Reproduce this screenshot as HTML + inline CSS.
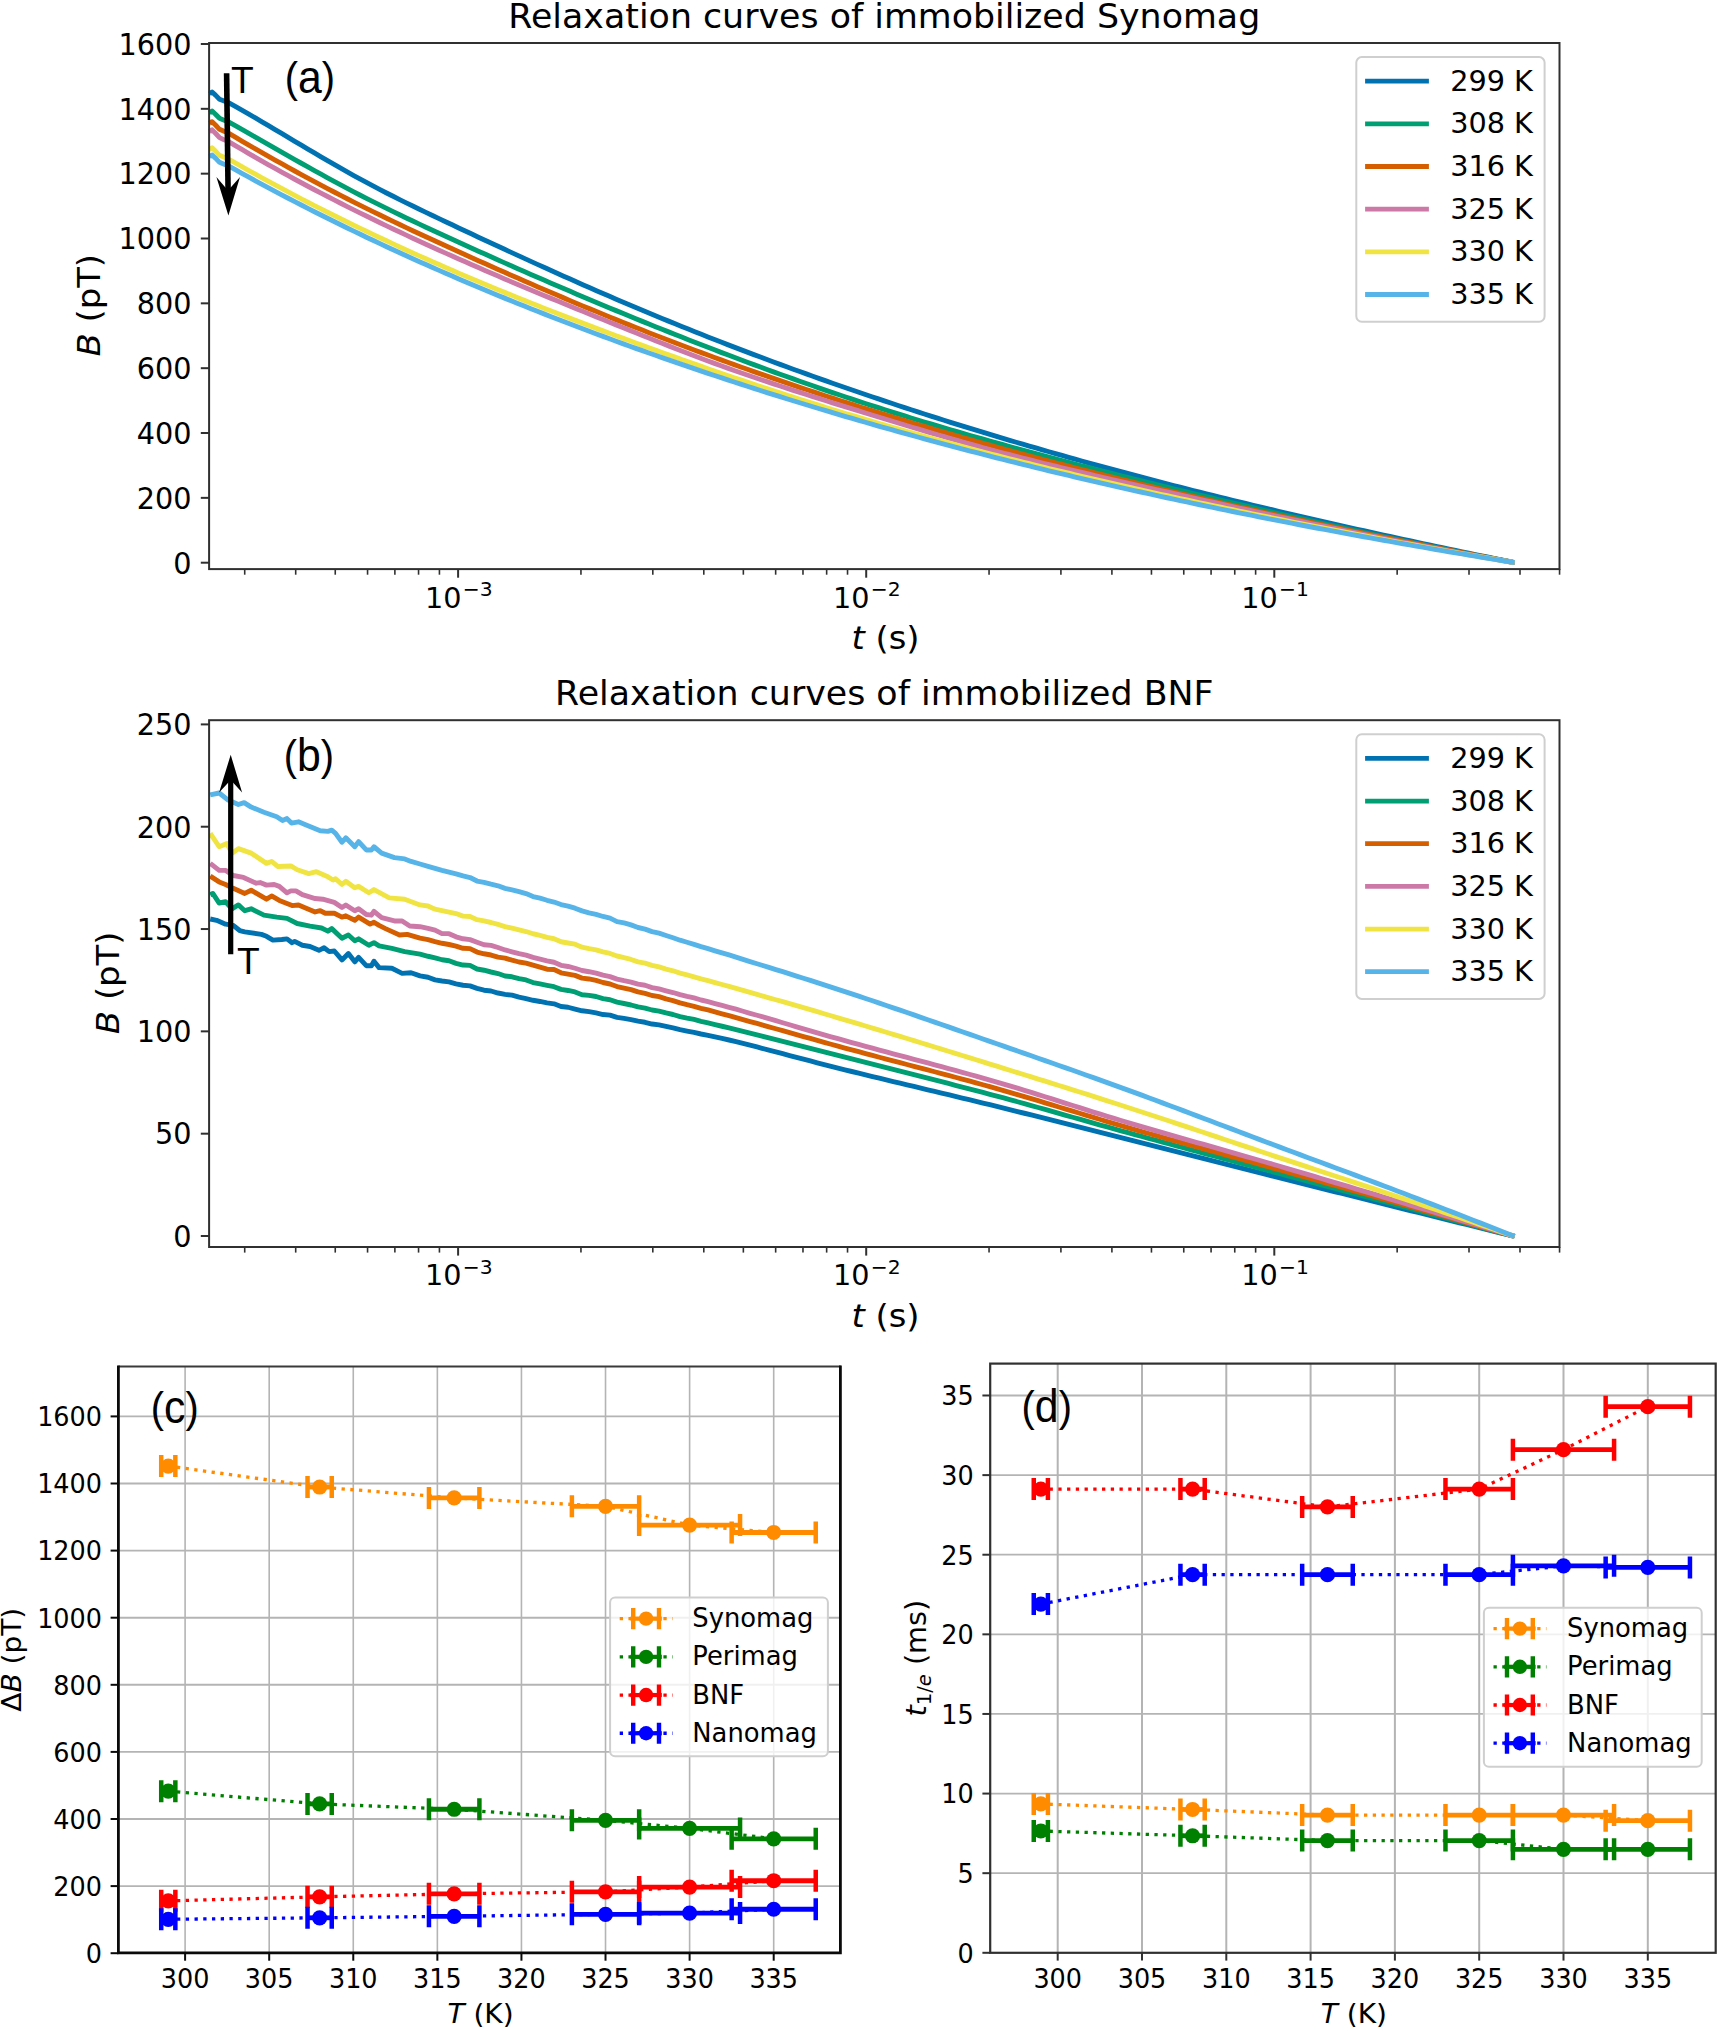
<!DOCTYPE html>
<html lang="en"><head><meta charset="utf-8"><title>Relaxation curves</title>
<style>html,body{margin:0;padding:0;background:#fff}svg{display:block}text{white-space:pre}</style>
</head><body>
<svg width="1720" height="2031" viewBox="0 0 1720 2031">
<rect width="1720" height="2031" fill="#fff"/>
<g fill="none" stroke-linejoin="round" stroke-linecap="butt" stroke-width="4.9">
<path d="M209.5 93.9 L212.1 91.99 L215.5 95.1 L219.5 99.17 L223.5 100.76 L228.5 102.62 L235.73 106.68 L242.29 110.41 L248.85 114.18 L255.41 117.99 L261.97 121.83 L268.52 125.7 L275.08 129.58 L281.64 133.48 L288.2 137.39 L294.76 141.29 L301.32 145.2 L307.87 149.09 L314.43 152.96 L320.99 156.82 L327.55 160.64 L334.11 164.44 L340.67 168.19 L347.22 171.9 L353.78 175.55 L360.34 179.15 L366.9 182.69 L373.46 186.17 L380.02 189.59 L386.57 192.96 L393.13 196.29 L399.69 199.58 L406.25 202.83 L412.81 206.04 L419.37 209.22 L425.92 212.38 L432.48 215.52 L439.04 218.64 L445.6 221.74 L452.16 224.84 L458.72 227.93 L465.27 231.01 L471.83 234.09 L478.39 237.16 L484.95 240.22 L491.51 243.27 L498.06 246.31 L504.62 249.34 L511.18 252.37 L517.74 255.38 L524.3 258.38 L530.86 261.38 L537.41 264.36 L543.97 267.33 L550.53 270.29 L557.09 273.24 L563.65 276.17 L570.21 279.09 L576.76 282 L583.32 284.89 L589.88 287.77 L596.44 290.64 L603 293.49 L609.56 296.33 L616.11 299.15 L622.67 301.96 L629.23 304.75 L635.79 307.52 L642.35 310.28 L648.91 313.02 L655.46 315.74 L662.02 318.45 L668.58 321.13 L675.14 323.81 L681.7 326.46 L688.26 329.1 L694.81 331.73 L701.37 334.33 L707.93 336.92 L714.49 339.5 L721.05 342.06 L727.61 344.6 L734.16 347.13 L740.72 349.64 L747.28 352.13 L753.84 354.62 L760.4 357.08 L766.95 359.53 L773.51 361.96 L780.07 364.38 L786.63 366.79 L793.19 369.18 L799.75 371.55 L806.3 373.91 L812.86 376.26 L819.42 378.59 L825.98 380.91 L832.54 383.21 L839.1 385.5 L845.65 387.77 L852.21 390.03 L858.77 392.27 L865.33 394.51 L871.89 396.72 L878.45 398.93 L885 401.12 L891.56 403.3 L898.12 405.46 L904.68 407.61 L911.24 409.75 L917.8 411.87 L924.35 413.98 L930.91 416.08 L937.47 418.17 L944.03 420.24 L950.59 422.3 L957.15 424.35 L963.7 426.38 L970.26 428.41 L976.82 430.42 L983.38 432.41 L989.94 434.4 L996.49 436.38 L1003.05 438.34 L1009.61 440.29 L1016.17 442.23 L1022.73 444.15 L1029.29 446.07 L1035.84 447.97 L1042.4 449.87 L1048.96 451.75 L1055.52 453.62 L1062.08 455.48 L1068.64 457.33 L1075.19 459.17 L1081.75 460.99 L1088.31 462.81 L1094.87 464.62 L1101.43 466.41 L1107.99 468.2 L1114.54 469.97 L1121.1 471.74 L1127.66 473.49 L1134.22 475.24 L1140.78 476.97 L1147.34 478.7 L1153.89 480.41 L1160.45 482.12 L1167.01 483.81 L1173.57 485.5 L1180.13 487.18 L1186.69 488.85 L1193.24 490.51 L1199.8 492.16 L1206.36 493.8 L1212.92 495.43 L1219.48 497.05 L1226.04 498.67 L1232.59 500.28 L1239.15 501.87 L1245.71 503.46 L1252.27 505.04 L1258.83 506.62 L1265.38 508.18 L1271.94 509.74 L1278.5 511.29 L1285.06 512.83 L1291.62 514.36 L1298.18 515.89 L1304.73 517.41 L1311.29 518.92 L1317.85 520.42 L1324.41 521.92 L1330.97 523.41 L1337.53 524.89 L1344.08 526.37 L1350.64 527.84 L1357.2 529.3 L1363.76 530.75 L1370.32 532.2 L1376.88 533.64 L1383.43 535.08 L1389.99 536.51 L1396.55 537.93 L1403.11 539.35 L1409.67 540.76 L1416.23 542.17 L1422.78 543.57 L1429.34 544.96 L1435.9 546.35 L1442.46 547.73 L1449.02 549.11 L1455.58 550.48 L1462.13 551.85 L1468.69 553.21 L1475.25 554.56 L1481.81 555.92 L1488.37 557.26 L1494.93 558.6 L1501.48 559.94 L1508.04 561.27 L1514.6 562.6" stroke="#0072B2"/>
<path d="M209.5 112.9 L212.1 111.03 L215.5 114.2 L219.5 118.32 L223.5 119.95 L228.5 121.84 L235.73 125.92 L242.29 129.63 L248.85 133.36 L255.41 137.11 L261.97 140.86 L268.52 144.61 L275.08 148.36 L281.64 152.1 L288.2 155.84 L294.76 159.55 L301.32 163.25 L307.87 166.93 L314.43 170.59 L320.99 174.21 L327.55 177.8 L334.11 181.37 L340.67 184.89 L347.22 188.38 L353.78 191.83 L360.34 195.23 L366.9 198.59 L373.46 201.9 L380.02 205.18 L386.57 208.42 L393.13 211.62 L399.69 214.79 L406.25 217.93 L412.81 221.04 L419.37 224.12 L425.92 227.19 L432.48 230.23 L439.04 233.26 L445.6 236.27 L452.16 239.26 L458.72 242.25 L465.27 245.23 L471.83 248.2 L478.39 251.15 L484.95 254.1 L491.51 257.03 L498.06 259.95 L504.62 262.87 L511.18 265.77 L517.74 268.66 L524.3 271.53 L530.86 274.4 L537.41 277.26 L543.97 280.1 L550.53 282.93 L557.09 285.75 L563.65 288.56 L570.21 291.36 L576.76 294.15 L583.32 296.92 L589.88 299.69 L596.44 302.44 L603 305.18 L609.56 307.9 L616.11 310.62 L622.67 313.32 L629.23 316.01 L635.79 318.69 L642.35 321.36 L648.91 324.01 L655.46 326.65 L662.02 329.28 L668.58 331.9 L675.14 334.5 L681.7 337.09 L688.26 339.66 L694.81 342.23 L701.37 344.78 L707.93 347.31 L714.49 349.83 L721.05 352.34 L727.61 354.83 L734.16 357.3 L740.72 359.77 L747.28 362.21 L753.84 364.64 L760.4 367.06 L766.95 369.46 L773.51 371.84 L780.07 374.21 L786.63 376.56 L793.19 378.9 L799.75 381.22 L806.3 383.52 L812.86 385.81 L819.42 388.08 L825.98 390.33 L832.54 392.56 L839.1 394.78 L845.65 396.97 L852.21 399.15 L858.77 401.32 L865.33 403.46 L871.89 405.58 L878.45 407.69 L885 409.78 L891.56 411.85 L898.12 413.91 L904.68 415.95 L911.24 417.97 L917.8 419.98 L924.35 421.97 L930.91 423.94 L937.47 425.9 L944.03 427.84 L950.59 429.77 L957.15 431.69 L963.7 433.59 L970.26 435.48 L976.82 437.35 L983.38 439.21 L989.94 441.06 L996.49 442.9 L1003.05 444.72 L1009.61 446.53 L1016.17 448.33 L1022.73 450.12 L1029.29 451.9 L1035.84 453.66 L1042.4 455.42 L1048.96 457.16 L1055.52 458.9 L1062.08 460.62 L1068.64 462.34 L1075.19 464.05 L1081.75 465.75 L1088.31 467.44 L1094.87 469.12 L1101.43 470.79 L1107.99 472.46 L1114.54 474.12 L1121.1 475.77 L1127.66 477.41 L1134.22 479.05 L1140.78 480.69 L1147.34 482.31 L1153.89 483.93 L1160.45 485.55 L1167.01 487.16 L1173.57 488.76 L1180.13 490.36 L1186.69 491.95 L1193.24 493.53 L1199.8 495.11 L1206.36 496.68 L1212.92 498.25 L1219.48 499.81 L1226.04 501.36 L1232.59 502.91 L1239.15 504.45 L1245.71 505.98 L1252.27 507.51 L1258.83 509.03 L1265.38 510.54 L1271.94 512.05 L1278.5 513.55 L1285.06 515.04 L1291.62 516.53 L1298.18 518.01 L1304.73 519.48 L1311.29 520.94 L1317.85 522.4 L1324.41 523.85 L1330.97 525.3 L1337.53 526.73 L1344.08 528.16 L1350.64 529.58 L1357.2 531 L1363.76 532.4 L1370.32 533.8 L1376.88 535.2 L1383.43 536.58 L1389.99 537.96 L1396.55 539.33 L1403.11 540.69 L1409.67 542.04 L1416.23 543.39 L1422.78 544.72 L1429.34 546.05 L1435.9 547.37 L1442.46 548.69 L1449.02 549.99 L1455.58 551.29 L1462.13 552.58 L1468.69 553.86 L1475.25 555.14 L1481.81 556.4 L1488.37 557.66 L1494.93 558.9 L1501.48 560.14 L1508.04 561.37 L1514.6 562.6" stroke="#009E73"/>
<path d="M209.5 123.4 L212.1 121.66 L215.5 125.01 L219.5 129.31 L223.5 131.09 L228.5 133.17 L235.73 137.44 L242.29 141.28 L248.85 145.09 L255.41 148.88 L261.97 152.63 L268.52 156.36 L275.08 160.06 L281.64 163.73 L288.2 167.37 L294.76 170.98 L301.32 174.56 L307.87 178.11 L314.43 181.62 L320.99 185.11 L327.55 188.57 L334.11 191.99 L340.67 195.38 L347.22 198.74 L353.78 202.07 L360.34 205.37 L366.9 208.63 L373.46 211.86 L380.02 215.06 L386.57 218.23 L393.13 221.38 L399.69 224.5 L406.25 227.6 L412.81 230.68 L419.37 233.74 L425.92 236.78 L432.48 239.81 L439.04 242.82 L445.6 245.82 L452.16 248.81 L458.72 251.79 L465.27 254.76 L471.83 257.71 L478.39 260.66 L484.95 263.6 L491.51 266.52 L498.06 269.44 L504.62 272.34 L511.18 275.23 L517.74 278.11 L524.3 280.97 L530.86 283.82 L537.41 286.66 L543.97 289.49 L550.53 292.3 L557.09 295.1 L563.65 297.88 L570.21 300.65 L576.76 303.41 L583.32 306.15 L589.88 308.87 L596.44 311.58 L603 314.28 L609.56 316.95 L616.11 319.62 L622.67 322.26 L629.23 324.89 L635.79 327.5 L642.35 330.09 L648.91 332.67 L655.46 335.22 L662.02 337.76 L668.58 340.29 L675.14 342.79 L681.7 345.28 L688.26 347.76 L694.81 350.21 L701.37 352.65 L707.93 355.07 L714.49 357.48 L721.05 359.87 L727.61 362.24 L734.16 364.6 L740.72 366.94 L747.28 369.26 L753.84 371.57 L760.4 373.87 L766.95 376.15 L773.51 378.41 L780.07 380.66 L786.63 382.89 L793.19 385.11 L799.75 387.31 L806.3 389.5 L812.86 391.67 L819.42 393.83 L825.98 395.97 L832.54 398.1 L839.1 400.22 L845.65 402.32 L852.21 404.41 L858.77 406.48 L865.33 408.54 L871.89 410.58 L878.45 412.62 L885 414.63 L891.56 416.64 L898.12 418.63 L904.68 420.61 L911.24 422.58 L917.8 424.53 L924.35 426.47 L930.91 428.4 L937.47 430.31 L944.03 432.21 L950.59 434.1 L957.15 435.98 L963.7 437.85 L970.26 439.7 L976.82 441.54 L983.38 443.37 L989.94 445.19 L996.49 447 L1003.05 448.8 L1009.61 450.58 L1016.17 452.35 L1022.73 454.12 L1029.29 455.87 L1035.84 457.61 L1042.4 459.34 L1048.96 461.06 L1055.52 462.76 L1062.08 464.46 L1068.64 466.15 L1075.19 467.83 L1081.75 469.5 L1088.31 471.15 L1094.87 472.8 L1101.43 474.44 L1107.99 476.07 L1114.54 477.69 L1121.1 479.3 L1127.66 480.9 L1134.22 482.49 L1140.78 484.07 L1147.34 485.64 L1153.89 487.21 L1160.45 488.76 L1167.01 490.31 L1173.57 491.85 L1180.13 493.38 L1186.69 494.9 L1193.24 496.42 L1199.8 497.92 L1206.36 499.42 L1212.92 500.91 L1219.48 502.39 L1226.04 503.87 L1232.59 505.33 L1239.15 506.79 L1245.71 508.24 L1252.27 509.69 L1258.83 511.13 L1265.38 512.56 L1271.94 513.98 L1278.5 515.4 L1285.06 516.81 L1291.62 518.21 L1298.18 519.6 L1304.73 520.99 L1311.29 522.38 L1317.85 523.75 L1324.41 525.12 L1330.97 526.49 L1337.53 527.85 L1344.08 529.2 L1350.64 530.54 L1357.2 531.89 L1363.76 533.22 L1370.32 534.55 L1376.88 535.87 L1383.43 537.19 L1389.99 538.51 L1396.55 539.82 L1403.11 541.12 L1409.67 542.42 L1416.23 543.71 L1422.78 545 L1429.34 546.28 L1435.9 547.56 L1442.46 548.84 L1449.02 550.11 L1455.58 551.38 L1462.13 552.64 L1468.69 553.9 L1475.25 555.15 L1481.81 556.4 L1488.37 557.65 L1494.93 558.89 L1501.48 560.13 L1508.04 561.37 L1514.6 562.6" stroke="#D55E00"/>
<path d="M209.5 131.6 L212.1 129.89 L215.5 133.28 L219.5 137.61 L223.5 139.44 L228.5 141.54 L235.73 145.85 L242.29 149.71 L248.85 153.53 L255.41 157.32 L261.97 161.06 L268.52 164.77 L275.08 168.44 L281.64 172.07 L288.2 175.67 L294.76 179.23 L301.32 182.76 L307.87 186.26 L314.43 189.72 L320.99 193.15 L327.55 196.55 L334.11 199.92 L340.67 203.26 L347.22 206.57 L353.78 209.85 L360.34 213.1 L366.9 216.32 L373.46 219.52 L380.02 222.69 L386.57 225.84 L393.13 228.96 L399.69 232.06 L406.25 235.13 L412.81 238.18 L419.37 241.21 L425.92 244.22 L432.48 247.21 L439.04 250.17 L445.6 253.12 L452.16 256.05 L458.72 258.96 L465.27 261.86 L471.83 264.73 L478.39 267.59 L484.95 270.44 L491.51 273.27 L498.06 276.08 L504.62 278.88 L511.18 281.67 L517.74 284.44 L524.3 287.2 L530.86 289.95 L537.41 292.69 L543.97 295.42 L550.53 298.13 L557.09 300.84 L563.65 303.54 L570.21 306.23 L576.76 308.91 L583.32 311.58 L589.88 314.25 L596.44 316.91 L603 319.56 L609.56 322.21 L616.11 324.86 L622.67 327.5 L629.23 330.14 L635.79 332.77 L642.35 335.4 L648.91 338.03 L655.46 340.65 L662.02 343.26 L668.58 345.86 L675.14 348.44 L681.7 351 L688.26 353.53 L694.81 356.04 L701.37 358.52 L707.93 360.96 L714.49 363.38 L721.05 365.76 L727.61 368.11 L734.16 370.44 L740.72 372.74 L747.28 375.01 L753.84 377.26 L760.4 379.48 L766.95 381.69 L773.51 383.87 L780.07 386.03 L786.63 388.18 L793.19 390.31 L799.75 392.42 L806.3 394.52 L812.86 396.61 L819.42 398.68 L825.98 400.74 L832.54 402.8 L839.1 404.84 L845.65 406.88 L852.21 408.92 L858.77 410.95 L865.33 412.97 L871.89 414.99 L878.45 417.01 L885 419.02 L891.56 421.03 L898.12 423.02 L904.68 425.01 L911.24 426.99 L917.8 428.95 L924.35 430.91 L930.91 432.85 L937.47 434.77 L944.03 436.68 L950.59 438.58 L957.15 440.45 L963.7 442.31 L970.26 444.15 L976.82 445.96 L983.38 447.76 L989.94 449.53 L996.49 451.28 L1003.05 453.01 L1009.61 454.72 L1016.17 456.41 L1022.73 458.08 L1029.29 459.74 L1035.84 461.38 L1042.4 463.01 L1048.96 464.62 L1055.52 466.21 L1062.08 467.79 L1068.64 469.36 L1075.19 470.92 L1081.75 472.47 L1088.31 474.01 L1094.87 475.54 L1101.43 477.06 L1107.99 478.58 L1114.54 480.09 L1121.1 481.59 L1127.66 483.08 L1134.22 484.58 L1140.78 486.07 L1147.34 487.56 L1153.89 489.04 L1160.45 490.52 L1167.01 492 L1173.57 493.48 L1180.13 494.95 L1186.69 496.42 L1193.24 497.89 L1199.8 499.35 L1206.36 500.81 L1212.92 502.26 L1219.48 503.71 L1226.04 505.16 L1232.59 506.6 L1239.15 508.04 L1245.71 509.48 L1252.27 510.9 L1258.83 512.33 L1265.38 513.75 L1271.94 515.16 L1278.5 516.57 L1285.06 517.97 L1291.62 519.37 L1298.18 520.76 L1304.73 522.15 L1311.29 523.53 L1317.85 524.9 L1324.41 526.27 L1330.97 527.63 L1337.53 528.99 L1344.08 530.34 L1350.64 531.68 L1357.2 533.01 L1363.76 534.34 L1370.32 535.66 L1376.88 536.97 L1383.43 538.28 L1389.99 539.58 L1396.55 540.87 L1403.11 542.15 L1409.67 543.42 L1416.23 544.69 L1422.78 545.94 L1429.34 547.19 L1435.9 548.43 L1442.46 549.67 L1449.02 550.89 L1455.58 552.1 L1462.13 553.31 L1468.69 554.5 L1475.25 555.69 L1481.81 556.86 L1488.37 558.03 L1494.93 559.19 L1501.48 560.33 L1508.04 561.47 L1514.6 562.6" stroke="#CC79A7"/>
<path d="M209.5 149.61 L212.1 147.83 L215.5 151.12 L219.5 155.35 L223.5 157.06 L228.5 159.04 L235.73 163.17 L242.29 166.87 L248.85 170.55 L255.41 174.19 L261.97 177.8 L268.52 181.38 L275.08 184.92 L281.64 188.44 L288.2 191.93 L294.76 195.38 L301.32 198.81 L307.87 202.21 L314.43 205.58 L320.99 208.92 L327.55 212.23 L334.11 215.51 L340.67 218.77 L347.22 222 L353.78 225.21 L360.34 228.38 L366.9 231.54 L373.46 234.66 L380.02 237.76 L386.57 240.84 L393.13 243.89 L399.69 246.92 L406.25 249.92 L412.81 252.9 L419.37 255.86 L425.92 258.8 L432.48 261.71 L439.04 264.6 L445.6 267.47 L452.16 270.32 L458.72 273.14 L465.27 275.95 L471.83 278.74 L478.39 281.51 L484.95 284.25 L491.51 286.98 L498.06 289.69 L504.62 292.39 L511.18 295.06 L517.74 297.72 L524.3 300.36 L530.86 302.98 L537.41 305.59 L543.97 308.18 L550.53 310.76 L557.09 313.32 L563.65 315.86 L570.21 318.39 L576.76 320.91 L583.32 323.41 L589.88 325.9 L596.44 328.37 L603 330.84 L609.56 333.29 L616.11 335.73 L622.67 338.16 L629.23 340.57 L635.79 342.98 L642.35 345.37 L648.91 347.76 L655.46 350.13 L662.02 352.49 L668.58 354.84 L675.14 357.18 L681.7 359.51 L688.26 361.83 L694.81 364.13 L701.37 366.43 L707.93 368.71 L714.49 370.97 L721.05 373.23 L727.61 375.47 L734.16 377.7 L740.72 379.91 L747.28 382.11 L753.84 384.3 L760.4 386.48 L766.95 388.64 L773.51 390.79 L780.07 392.92 L786.63 395.04 L793.19 397.15 L799.75 399.24 L806.3 401.32 L812.86 403.38 L819.42 405.43 L825.98 407.47 L832.54 409.49 L839.1 411.5 L845.65 413.49 L852.21 415.47 L858.77 417.43 L865.33 419.38 L871.89 421.31 L878.45 423.23 L885 425.13 L891.56 427.02 L898.12 428.9 L904.68 430.76 L911.24 432.6 L917.8 434.44 L924.35 436.26 L930.91 438.06 L937.47 439.86 L944.03 441.64 L950.59 443.41 L957.15 445.16 L963.7 446.91 L970.26 448.64 L976.82 450.35 L983.38 452.06 L989.94 453.76 L996.49 455.44 L1003.05 457.11 L1009.61 458.77 L1016.17 460.42 L1022.73 462.06 L1029.29 463.69 L1035.84 465.31 L1042.4 466.92 L1048.96 468.51 L1055.52 470.1 L1062.08 471.68 L1068.64 473.25 L1075.19 474.8 L1081.75 476.35 L1088.31 477.89 L1094.87 479.42 L1101.43 480.95 L1107.99 482.46 L1114.54 483.97 L1121.1 485.46 L1127.66 486.95 L1134.22 488.43 L1140.78 489.91 L1147.34 491.37 L1153.89 492.83 L1160.45 494.28 L1167.01 495.72 L1173.57 497.16 L1180.13 498.59 L1186.69 500.01 L1193.24 501.42 L1199.8 502.83 L1206.36 504.23 L1212.92 505.62 L1219.48 507 L1226.04 508.38 L1232.59 509.75 L1239.15 511.12 L1245.71 512.47 L1252.27 513.82 L1258.83 515.17 L1265.38 516.5 L1271.94 517.83 L1278.5 519.16 L1285.06 520.47 L1291.62 521.78 L1298.18 523.08 L1304.73 524.38 L1311.29 525.67 L1317.85 526.95 L1324.41 528.23 L1330.97 529.5 L1337.53 530.76 L1344.08 532.02 L1350.64 533.27 L1357.2 534.51 L1363.76 535.75 L1370.32 536.98 L1376.88 538.21 L1383.43 539.43 L1389.99 540.64 L1396.55 541.85 L1403.11 543.05 L1409.67 544.25 L1416.23 545.44 L1422.78 546.62 L1429.34 547.8 L1435.9 548.97 L1442.46 550.14 L1449.02 551.3 L1455.58 552.45 L1462.13 553.6 L1468.69 554.75 L1475.25 555.88 L1481.81 557.02 L1488.37 558.14 L1494.93 559.26 L1501.48 560.38 L1508.04 561.49 L1514.6 562.6" stroke="#F0E442"/>
<path d="M209.5 156.72 L212.1 154.91 L215.5 158.16 L219.5 162.33 L223.5 164 L228.5 165.92 L235.73 169.97 L242.29 173.6 L248.85 177.21 L255.41 180.78 L261.97 184.33 L268.52 187.85 L275.08 191.35 L281.64 194.81 L288.2 198.25 L294.76 201.66 L301.32 205.04 L307.87 208.4 L314.43 211.73 L320.99 215.03 L327.55 218.31 L334.11 221.56 L340.67 224.79 L347.22 227.99 L353.78 231.17 L360.34 234.32 L366.9 237.45 L373.46 240.56 L380.02 243.64 L386.57 246.7 L393.13 249.73 L399.69 252.75 L406.25 255.74 L412.81 258.71 L419.37 261.66 L425.92 264.58 L432.48 267.49 L439.04 270.37 L445.6 273.24 L452.16 276.08 L458.72 278.91 L465.27 281.71 L471.83 284.5 L478.39 287.26 L484.95 290.01 L491.51 292.73 L498.06 295.44 L504.62 298.13 L511.18 300.8 L517.74 303.46 L524.3 306.09 L530.86 308.71 L537.41 311.31 L543.97 313.89 L550.53 316.46 L557.09 319 L563.65 321.53 L570.21 324.05 L576.76 326.55 L583.32 329.03 L589.88 331.49 L596.44 333.94 L603 336.38 L609.56 338.8 L616.11 341.2 L622.67 343.59 L629.23 345.96 L635.79 348.32 L642.35 350.66 L648.91 352.99 L655.46 355.31 L662.02 357.61 L668.58 359.9 L675.14 362.17 L681.7 364.43 L688.26 366.67 L694.81 368.9 L701.37 371.12 L707.93 373.32 L714.49 375.51 L721.05 377.69 L727.61 379.85 L734.16 382 L740.72 384.14 L747.28 386.26 L753.84 388.37 L760.4 390.46 L766.95 392.55 L773.51 394.62 L780.07 396.67 L786.63 398.72 L793.19 400.75 L799.75 402.77 L806.3 404.77 L812.86 406.77 L819.42 408.75 L825.98 410.72 L832.54 412.67 L839.1 414.62 L845.65 416.55 L852.21 418.47 L858.77 420.38 L865.33 422.27 L871.89 424.15 L878.45 426.03 L885 427.89 L891.56 429.73 L898.12 431.57 L904.68 433.4 L911.24 435.21 L917.8 437.01 L924.35 438.8 L930.91 440.58 L937.47 442.35 L944.03 444.11 L950.59 445.85 L957.15 447.59 L963.7 449.31 L970.26 451.02 L976.82 452.73 L983.38 454.42 L989.94 456.1 L996.49 457.77 L1003.05 459.43 L1009.61 461.08 L1016.17 462.72 L1022.73 464.35 L1029.29 465.97 L1035.84 467.58 L1042.4 469.18 L1048.96 470.77 L1055.52 472.34 L1062.08 473.91 L1068.64 475.47 L1075.19 477.02 L1081.75 478.56 L1088.31 480.09 L1094.87 481.61 L1101.43 483.13 L1107.99 484.63 L1114.54 486.12 L1121.1 487.61 L1127.66 489.08 L1134.22 490.55 L1140.78 492 L1147.34 493.45 L1153.89 494.89 L1160.45 496.32 L1167.01 497.74 L1173.57 499.16 L1180.13 500.56 L1186.69 501.96 L1193.24 503.35 L1199.8 504.73 L1206.36 506.1 L1212.92 507.46 L1219.48 508.82 L1226.04 510.16 L1232.59 511.5 L1239.15 512.83 L1245.71 514.16 L1252.27 515.47 L1258.83 516.78 L1265.38 518.08 L1271.94 519.37 L1278.5 520.66 L1285.06 521.94 L1291.62 523.21 L1298.18 524.47 L1304.73 525.73 L1311.29 526.98 L1317.85 528.22 L1324.41 529.46 L1330.97 530.68 L1337.53 531.91 L1344.08 533.12 L1350.64 534.33 L1357.2 535.53 L1363.76 536.73 L1370.32 537.92 L1376.88 539.1 L1383.43 540.28 L1389.99 541.45 L1396.55 542.61 L1403.11 543.77 L1409.67 544.92 L1416.23 546.07 L1422.78 547.21 L1429.34 548.34 L1435.9 549.47 L1442.46 550.59 L1449.02 551.71 L1455.58 552.82 L1462.13 553.93 L1468.69 555.03 L1475.25 556.13 L1481.81 557.22 L1488.37 558.3 L1494.93 559.39 L1501.48 560.46 L1508.04 561.53 L1514.6 562.6" stroke="#56B4E9"/>
</g>
<rect x="209.1" y="43" width="1350.4" height="526.1" fill="none" stroke="#303030" stroke-width="2.0"/>
<g><line x1="244.71" y1="569.1" x2="244.71" y2="574.7" stroke="#303030" stroke-width="1.6"/><line x1="295.7" y1="569.1" x2="295.7" y2="574.7" stroke="#303030" stroke-width="1.6"/><line x1="335.25" y1="569.1" x2="335.25" y2="574.7" stroke="#303030" stroke-width="1.6"/><line x1="367.56" y1="569.1" x2="367.56" y2="574.7" stroke="#303030" stroke-width="1.6"/><line x1="394.88" y1="569.1" x2="394.88" y2="574.7" stroke="#303030" stroke-width="1.6"/><line x1="418.55" y1="569.1" x2="418.55" y2="574.7" stroke="#303030" stroke-width="1.6"/><line x1="439.43" y1="569.1" x2="439.43" y2="574.7" stroke="#303030" stroke-width="1.6"/><line x1="458.1" y1="569.1" x2="458.1" y2="577.7" stroke="#303030" stroke-width="2"/><line x1="580.95" y1="569.1" x2="580.95" y2="574.7" stroke="#303030" stroke-width="1.6"/><line x1="652.81" y1="569.1" x2="652.81" y2="574.7" stroke="#303030" stroke-width="1.6"/><line x1="703.8" y1="569.1" x2="703.8" y2="574.7" stroke="#303030" stroke-width="1.6"/><line x1="743.35" y1="569.1" x2="743.35" y2="574.7" stroke="#303030" stroke-width="1.6"/><line x1="775.66" y1="569.1" x2="775.66" y2="574.7" stroke="#303030" stroke-width="1.6"/><line x1="802.98" y1="569.1" x2="802.98" y2="574.7" stroke="#303030" stroke-width="1.6"/><line x1="826.65" y1="569.1" x2="826.65" y2="574.7" stroke="#303030" stroke-width="1.6"/><line x1="847.53" y1="569.1" x2="847.53" y2="574.7" stroke="#303030" stroke-width="1.6"/><line x1="866.2" y1="569.1" x2="866.2" y2="577.7" stroke="#303030" stroke-width="2"/><line x1="989.05" y1="569.1" x2="989.05" y2="574.7" stroke="#303030" stroke-width="1.6"/><line x1="1060.91" y1="569.1" x2="1060.91" y2="574.7" stroke="#303030" stroke-width="1.6"/><line x1="1111.9" y1="569.1" x2="1111.9" y2="574.7" stroke="#303030" stroke-width="1.6"/><line x1="1151.45" y1="569.1" x2="1151.45" y2="574.7" stroke="#303030" stroke-width="1.6"/><line x1="1183.76" y1="569.1" x2="1183.76" y2="574.7" stroke="#303030" stroke-width="1.6"/><line x1="1211.08" y1="569.1" x2="1211.08" y2="574.7" stroke="#303030" stroke-width="1.6"/><line x1="1234.75" y1="569.1" x2="1234.75" y2="574.7" stroke="#303030" stroke-width="1.6"/><line x1="1255.63" y1="569.1" x2="1255.63" y2="574.7" stroke="#303030" stroke-width="1.6"/><line x1="1274.3" y1="569.1" x2="1274.3" y2="577.7" stroke="#303030" stroke-width="2"/><line x1="1397.15" y1="569.1" x2="1397.15" y2="574.7" stroke="#303030" stroke-width="1.6"/><line x1="1469.01" y1="569.1" x2="1469.01" y2="574.7" stroke="#303030" stroke-width="1.6"/><line x1="1520" y1="569.1" x2="1520" y2="574.7" stroke="#303030" stroke-width="1.6"/><line x1="1559.55" y1="569.1" x2="1559.55" y2="574.7" stroke="#303030" stroke-width="1.6"/><line x1="200.8" y1="562.7" x2="209.1" y2="562.7" stroke="#303030" stroke-width="2"/><line x1="200.8" y1="497.86" x2="209.1" y2="497.86" stroke="#303030" stroke-width="2"/><line x1="200.8" y1="433.02" x2="209.1" y2="433.02" stroke="#303030" stroke-width="2"/><line x1="200.8" y1="368.18" x2="209.1" y2="368.18" stroke="#303030" stroke-width="2"/><line x1="200.8" y1="303.34" x2="209.1" y2="303.34" stroke="#303030" stroke-width="2"/><line x1="200.8" y1="238.5" x2="209.1" y2="238.5" stroke="#303030" stroke-width="2"/><line x1="200.8" y1="173.66" x2="209.1" y2="173.66" stroke="#303030" stroke-width="2"/><line x1="200.8" y1="108.82" x2="209.1" y2="108.82" stroke="#303030" stroke-width="2"/><line x1="200.8" y1="43.98" x2="209.1" y2="43.98" stroke="#303030" stroke-width="2"/></g>
<g font-family='"DejaVu Sans", "Liberation Sans", sans-serif' font-size="28.7" fill="#000"><text transform="translate(191.6,573.5) scale(1,1.02)" text-anchor="end">0</text><text transform="translate(191.6,508.66) scale(1,1.02)" text-anchor="end">200</text><text transform="translate(191.6,443.82) scale(1,1.02)" text-anchor="end">400</text><text transform="translate(191.6,378.98) scale(1,1.02)" text-anchor="end">600</text><text transform="translate(191.6,314.14) scale(1,1.02)" text-anchor="end">800</text><text transform="translate(191.6,249.3) scale(1,1.02)" text-anchor="end">1000</text><text transform="translate(191.6,184.46) scale(1,1.02)" text-anchor="end">1200</text><text transform="translate(191.6,119.62) scale(1,1.02)" text-anchor="end">1400</text><text transform="translate(191.6,54.78) scale(1,1.02)" text-anchor="end">1600</text><text x="458.8" y="607.6" text-anchor="middle">10<tspan font-size="20.3" dx="1.2" dy="-11.6">−3</tspan></text><text x="866.9" y="607.6" text-anchor="middle">10<tspan font-size="20.3" dx="1.2" dy="-11.6">−2</tspan></text><text x="1275" y="607.6" text-anchor="middle">10<tspan font-size="20.3" dx="1.2" dy="-11.6">−1</tspan></text></g>
<text transform="translate(884.3,28.4) scale(1,0.95)" text-anchor="middle" font-family='"DejaVu Sans", "Liberation Sans", sans-serif' font-size="34.8" fill="#000">Relaxation curves of immobilized Synomag</text>
<text transform="translate(885.5,649) scale(1,0.955)" text-anchor="middle" font-family='"DejaVu Sans", "Liberation Sans", sans-serif' font-size="33.9" fill="#000"><tspan font-style="oblique">t</tspan> (s)</text>
<text transform="translate(100.3,305.25) rotate(-90) scale(1,0.94)" text-anchor="middle" font-family='"DejaVu Sans", "Liberation Sans", sans-serif' font-size="33.9" fill="#000"><tspan font-style="oblique">B</tspan> (pT)</text>
<rect x="1356.3" y="57.1" width="188.3" height="264.6" rx="5.5" fill="#fff" fill-opacity="0.8" stroke="#cfcfcf" stroke-width="2"/>
<g font-family='"DejaVu Sans", "Liberation Sans", sans-serif' font-size="28.7" fill="#000"><line x1="1365.1" y1="81.2" x2="1428.9" y2="81.2" stroke="#0072B2" stroke-width="4.8"/><text x="1450.2" y="90.8">299 K</text><line x1="1365.1" y1="123.86" x2="1428.9" y2="123.86" stroke="#009E73" stroke-width="4.8"/><text x="1450.2" y="133.46">308 K</text><line x1="1365.1" y1="166.52" x2="1428.9" y2="166.52" stroke="#D55E00" stroke-width="4.8"/><text x="1450.2" y="176.12">316 K</text><line x1="1365.1" y1="209.18" x2="1428.9" y2="209.18" stroke="#CC79A7" stroke-width="4.8"/><text x="1450.2" y="218.78">325 K</text><line x1="1365.1" y1="251.84" x2="1428.9" y2="251.84" stroke="#F0E442" stroke-width="4.8"/><text x="1450.2" y="261.44">330 K</text><line x1="1365.1" y1="294.5" x2="1428.9" y2="294.5" stroke="#56B4E9" stroke-width="4.8"/><text x="1450.2" y="304.1">335 K</text></g>
<path d="M226.6 73.3 L228.1 192" stroke="#000" stroke-width="5.6" fill="none"/>
<path d="M228.4 215.6 L216.4 177 L228 190.5 L240 177 Z" fill="#000"/>
<text x="231.0" y="93.4" font-family='"Liberation Sans", "DejaVu Sans", sans-serif' font-size="37.2" fill="#000">T</text>
<g transform="translate(284.7,93) scale(0.93,1)"><text x="0" y="0" font-family='"Liberation Sans", "DejaVu Sans", sans-serif' font-size="42.8" fill="#000"><tspan dy="-1.4">(</tspan><tspan font-size="46" dy="1.4">a</tspan><tspan dy="-1.4">)</tspan></text></g>
<g fill="none" stroke-linejoin="round" stroke-linecap="butt" stroke-width="4.9">
<path d="M210.23 919.01 L216.63 920.29 L225.58 924.13 L233.26 925.41 L239.65 930.52 L244.77 931.8 L261.4 934.36 L266.51 936.28 L272.91 940.12 L281.86 939.48 L286.98 938.84 L292.1 942.68 L294.65 941.4 L302.33 945.23 L310 946.51 L318.96 950.35 L324.07 947.79 L329.19 951.63 L334.31 950.99 L341.98 959.94 L348.38 953.55 L354.77 961.86 L358.61 957.39 L366.28 965.7 L371.4 965.7 L373.96 961.22 L379.07 967.62 L391.86 968.26 L402.1 973.37 L411.05 972.73 L420.01 975.93 L428 977.25 L435 979.88 L442 981.02 L449 981.89 L456 983.85 L463 985.24 L470 985.87 L477 988.32 L484 990.2 L491 990.99 L498 993.03 L505 994.37 L512 995.14 L519 997.11 L526 998.57 L533 1000.28 L540 1001.47 L547 1002.92 L554 1003.82 L561 1006.48 L568 1007.25 L575 1009.04 L582 1010.79 L589 1011.65 L596 1012.88 L603 1014.53 L610 1015.15 L617 1017.38 L624 1018.45 L631 1019.6 L638 1021.12 L645 1022.26 L652 1024.05 L659 1024.93 L666 1026.42 L673 1027.83 L680 1029.57 L687 1031.06 L694 1032.39 L701 1034 L708 1035.36 L715 1036.94 L722 1038.44 L729 1039.99 L736 1041.67 L743 1043.46 L750 1045.24 L757 1046.99 L762 1048.26 L768.9 1050.06 L775.81 1051.87 L782.71 1053.69 L789.62 1055.51 L796.52 1057.34 L803.43 1059.17 L810.33 1060.99 L817.24 1062.8 L824.14 1064.58 L831.05 1066.35 L837.95 1068.09 L844.86 1069.8 L851.76 1071.5 L858.66 1073.19 L865.57 1074.88 L872.47 1076.55 L879.38 1078.22 L886.28 1079.88 L893.19 1081.53 L900.09 1083.19 L907 1084.83 L913.9 1086.48 L920.81 1088.13 L927.71 1089.77 L934.61 1091.41 L941.52 1093.06 L948.42 1094.71 L955.33 1096.36 L962.23 1098.02 L969.14 1099.68 L976.04 1101.35 L982.95 1103.02 L989.85 1104.71 L996.76 1106.4 L1003.66 1108.1 L1010.57 1109.81 L1017.47 1111.53 L1024.37 1113.25 L1031.28 1114.98 L1038.18 1116.71 L1045.09 1118.45 L1051.99 1120.19 L1058.9 1121.93 L1065.8 1123.68 L1072.71 1125.43 L1079.61 1127.18 L1086.52 1128.93 L1093.42 1130.68 L1100.32 1132.43 L1107.23 1134.17 L1114.13 1135.92 L1121.04 1137.66 L1127.94 1139.41 L1134.85 1141.15 L1141.75 1142.9 L1148.66 1144.64 L1155.56 1146.39 L1162.47 1148.14 L1169.37 1149.89 L1176.28 1151.64 L1183.18 1153.39 L1190.08 1155.14 L1196.99 1156.9 L1203.89 1158.65 L1210.8 1160.4 L1217.7 1162.15 L1224.61 1163.9 L1231.51 1165.65 L1238.42 1167.4 L1245.32 1169.14 L1252.23 1170.89 L1259.13 1172.63 L1266.03 1174.38 L1272.94 1176.12 L1279.84 1177.86 L1286.75 1179.6 L1293.65 1181.34 L1300.56 1183.08 L1307.46 1184.81 L1314.37 1186.55 L1321.27 1188.29 L1328.18 1190.02 L1335.08 1191.75 L1341.99 1193.49 L1348.89 1195.22 L1355.79 1196.95 L1362.7 1198.68 L1369.6 1200.41 L1376.51 1202.13 L1383.41 1203.86 L1390.32 1205.58 L1397.22 1207.31 L1404.13 1209.03 L1411.03 1210.75 L1417.94 1212.47 L1424.84 1214.18 L1431.74 1215.9 L1438.65 1217.62 L1445.55 1219.33 L1452.46 1221.04 L1459.36 1222.75 L1466.27 1224.46 L1473.17 1226.17 L1480.08 1227.88 L1486.98 1229.59 L1493.89 1231.29 L1500.79 1233 L1507.7 1234.7 L1514.6 1236.4" stroke="#0072B2"/>
<path d="M210.23 894.71 L212.79 893.43 L219.19 903.02 L225.58 901.74 L231.98 908.78 L238.37 904.94 L244.77 910.7 L251.16 908.78 L263.95 915.18 L276.75 917.09 L286.98 918.37 L297.21 923.49 L310 926.05 L321.51 927.97 L327.91 931.16 L331.75 928.61 L341.98 938.2 L348.38 935 L354.77 940.76 L358.61 938.84 L368.84 945.23 L373.96 942.68 L379.07 945.87 L391.86 948.43 L404.66 951.63 L420.01 954.19 L428 956.26 L435 957.86 L442 959.76 L449 960.78 L456 963.33 L463 965.07 L470 965.42 L477 969.03 L484 970.24 L491 972 L498 973.55 L505 975.97 L512 976.78 L519 978.54 L526 979.94 L533 982.56 L540 983.97 L547 985.3 L554 986.69 L561 989.38 L568 990.46 L575 991.91 L582 994.71 L589 995.35 L596 996.52 L603 998.67 L610 999.74 L617 1002.11 L624 1003.5 L631 1005 L638 1006.94 L645 1008.09 L652 1010.01 L659 1011.08 L666 1012.96 L673 1014.49 L680 1016.54 L687 1018.09 L694 1019.44 L701 1021.34 L708 1022.83 L715 1024.54 L722 1026.25 L729 1027.88 L736 1029.65 L743 1031.44 L750 1033.2 L757 1034.92 L762 1036.18 L768.9 1037.92 L775.81 1039.66 L782.71 1041.41 L789.62 1043.17 L796.52 1044.92 L803.43 1046.68 L810.33 1048.44 L817.24 1050.21 L824.14 1051.97 L831.05 1053.72 L837.95 1055.48 L844.86 1057.23 L851.76 1058.98 L858.66 1060.73 L865.57 1062.47 L872.47 1064.21 L879.38 1065.95 L886.28 1067.69 L893.19 1069.44 L900.09 1071.18 L907 1072.93 L913.9 1074.67 L920.81 1076.43 L927.71 1078.18 L934.61 1079.94 L941.52 1081.71 L948.42 1083.48 L955.33 1085.26 L962.23 1087.05 L969.14 1088.85 L976.04 1090.65 L982.95 1092.47 L989.85 1094.3 L996.76 1096.13 L1003.66 1097.98 L1010.57 1099.85 L1017.47 1101.74 L1024.37 1103.65 L1031.28 1105.56 L1038.18 1107.49 L1045.09 1109.43 L1051.99 1111.38 L1058.9 1113.33 L1065.8 1115.29 L1072.71 1117.25 L1079.61 1119.2 L1086.52 1121.15 L1093.42 1123.1 L1100.32 1125.04 L1107.23 1126.97 L1114.13 1128.88 L1121.04 1130.79 L1127.94 1132.68 L1134.85 1134.57 L1141.75 1136.45 L1148.66 1138.33 L1155.56 1140.21 L1162.47 1142.09 L1169.37 1143.96 L1176.28 1145.82 L1183.18 1147.69 L1190.08 1149.55 L1196.99 1151.41 L1203.89 1153.27 L1210.8 1155.13 L1217.7 1156.98 L1224.61 1158.83 L1231.51 1160.69 L1238.42 1162.54 L1245.32 1164.39 L1252.23 1166.24 L1259.13 1168.1 L1266.03 1169.95 L1272.94 1171.8 L1279.84 1173.66 L1286.75 1175.51 L1293.65 1177.37 L1300.56 1179.22 L1307.46 1181.07 L1314.37 1182.92 L1321.27 1184.76 L1328.18 1186.61 L1335.08 1188.46 L1341.99 1190.3 L1348.89 1192.15 L1355.79 1193.99 L1362.7 1195.84 L1369.6 1197.68 L1376.51 1199.52 L1383.41 1201.37 L1390.32 1203.21 L1397.22 1205.06 L1404.13 1206.9 L1411.03 1208.75 L1417.94 1210.59 L1424.84 1212.44 L1431.74 1214.28 L1438.65 1216.13 L1445.55 1217.97 L1452.46 1219.81 L1459.36 1221.66 L1466.27 1223.5 L1473.17 1225.34 L1480.08 1227.19 L1486.98 1229.03 L1493.89 1230.87 L1500.79 1232.72 L1507.7 1234.56 L1514.6 1236.4" stroke="#009E73"/>
<path d="M210.23 876.17 L219.19 881.92 L225.58 884.48 L233.26 888.32 L244.77 893.43 L251.16 890.24 L266.51 899.19 L271.63 895.99 L279.3 900.47 L292.1 905.58 L298.49 904.94 L315.12 911.98 L320.24 910.7 L325.35 913.26 L334.31 913.26 L341.98 917.1 L345.82 915.82 L354.77 920.29 L358.61 917.1 L370.12 924.13 L373.96 922.21 L379.07 925.41 L385.47 928.61 L399.54 935 L407.21 934.36 L420.01 938.2 L428 939.63 L435 941.62 L442 943.27 L449 944.5 L456 946.15 L463 948.3 L470 948.59 L477 952.04 L484 953.78 L491 955.03 L498 957.09 L505 958.17 L512 960.17 L519 962 L526 963.19 L533 965.2 L540 967.08 L547 969.18 L554 969.57 L561 972.78 L568 974.17 L575 975.4 L582 978.1 L589 978.97 L596 980.42 L603 982.48 L610 983.98 L617 986.52 L624 988.13 L631 989.6 L638 991.89 L645 993.32 L652 995.48 L659 996.67 L666 998.94 L673 1000.6 L680 1002.88 L687 1004.74 L694 1006.41 L701 1008.31 L708 1009.97 L715 1011.93 L722 1013.82 L729 1015.64 L736 1017.61 L743 1019.59 L750 1021.54 L757 1023.47 L762 1024.87 L768.9 1026.81 L775.81 1028.75 L782.71 1030.7 L789.62 1032.65 L796.52 1034.59 L803.43 1036.54 L810.33 1038.48 L817.24 1040.41 L824.14 1042.33 L831.05 1044.24 L837.95 1046.14 L844.86 1048.02 L851.76 1049.89 L858.66 1051.74 L865.57 1053.59 L872.47 1055.42 L879.38 1057.25 L886.28 1059.07 L893.19 1060.88 L900.09 1062.69 L907 1064.5 L913.9 1066.31 L920.81 1068.12 L927.71 1069.93 L934.61 1071.75 L941.52 1073.57 L948.42 1075.4 L955.33 1077.25 L962.23 1079.1 L969.14 1080.96 L976.04 1082.84 L982.95 1084.74 L989.85 1086.65 L996.76 1088.58 L1003.66 1090.54 L1010.57 1092.52 L1017.47 1094.53 L1024.37 1096.57 L1031.28 1098.62 L1038.18 1100.69 L1045.09 1102.78 L1051.99 1104.87 L1058.9 1106.97 L1065.8 1109.07 L1072.71 1111.18 L1079.61 1113.28 L1086.52 1115.37 L1093.42 1117.45 L1100.32 1119.52 L1107.23 1121.57 L1114.13 1123.6 L1121.04 1125.6 L1127.94 1127.59 L1134.85 1129.56 L1141.75 1131.53 L1148.66 1133.49 L1155.56 1135.43 L1162.47 1137.37 L1169.37 1139.31 L1176.28 1141.23 L1183.18 1143.16 L1190.08 1145.07 L1196.99 1146.99 L1203.89 1148.9 L1210.8 1150.8 L1217.7 1152.71 L1224.61 1154.62 L1231.51 1156.52 L1238.42 1158.43 L1245.32 1160.34 L1252.23 1162.26 L1259.13 1164.17 L1266.03 1166.1 L1272.94 1168.02 L1279.84 1169.96 L1286.75 1171.89 L1293.65 1173.83 L1300.56 1175.77 L1307.46 1177.71 L1314.37 1179.65 L1321.27 1181.59 L1328.18 1183.53 L1335.08 1185.48 L1341.99 1187.42 L1348.89 1189.37 L1355.79 1191.31 L1362.7 1193.26 L1369.6 1195.21 L1376.51 1197.16 L1383.41 1199.11 L1390.32 1201.06 L1397.22 1203.01 L1404.13 1204.97 L1411.03 1206.92 L1417.94 1208.88 L1424.84 1210.84 L1431.74 1212.8 L1438.65 1214.76 L1445.55 1216.72 L1452.46 1218.68 L1459.36 1220.65 L1466.27 1222.61 L1473.17 1224.58 L1480.08 1226.55 L1486.98 1228.51 L1493.89 1230.48 L1500.79 1232.46 L1507.7 1234.43 L1514.6 1236.4" stroke="#D55E00"/>
<path d="M210.23 863.37 L219.19 870.41 L225.58 870.41 L233.26 875.53 L243.49 877.44 L256.28 883.2 L260.12 882.56 L266.51 885.12 L274.19 884.48 L279.3 886.4 L286.98 892.79 L290.82 890.87 L295.93 890.87 L302.33 894.71 L315.12 898.55 L322.79 899.19 L334.31 902.39 L341.98 907.5 L345.82 904.94 L354.77 910.7 L358.61 908.78 L366.28 914.54 L371.4 915.18 L373.96 911.34 L381.63 917.74 L394.42 920.93 L402.1 920.93 L409.77 926.05 L420.01 926.69 L428 928.37 L435 930.14 L442 933.66 L449 933.65 L456 936.8 L463 938.8 L470 939.63 L477 942.27 L484 944.77 L491 945.41 L498 947.53 L505 949.96 L512 951.82 L519 953.57 L526 955.1 L533 957.4 L540 959.16 L547 960.83 L554 962.25 L561 965.32 L568 966.46 L575 968.25 L582 970.53 L589 971.71 L596 973.2 L603 975.19 L610 976.61 L617 979.07 L624 980.69 L631 982.07 L638 984.17 L645 985.28 L652 987.55 L659 988.92 L666 990.76 L673 992.52 L680 994.71 L687 996.45 L694 997.97 L701 1000 L708 1001.69 L715 1003.62 L722 1005.44 L729 1007.31 L736 1009.22 L743 1011.26 L750 1013.29 L757 1015.26 L762 1016.7 L768.9 1018.71 L775.81 1020.72 L782.71 1022.74 L789.62 1024.76 L796.52 1026.78 L803.43 1028.8 L810.33 1030.81 L817.24 1032.81 L824.14 1034.8 L831.05 1036.77 L837.95 1038.72 L844.86 1040.66 L851.76 1042.57 L858.66 1044.46 L865.57 1046.35 L872.47 1048.22 L879.38 1050.08 L886.28 1051.93 L893.19 1053.78 L900.09 1055.62 L907 1057.46 L913.9 1059.3 L920.81 1061.14 L927.71 1062.99 L934.61 1064.84 L941.52 1066.69 L948.42 1068.56 L955.33 1070.44 L962.23 1072.33 L969.14 1074.24 L976.04 1076.16 L982.95 1078.11 L989.85 1080.07 L996.76 1082.06 L1003.66 1084.07 L1010.57 1086.12 L1017.47 1088.2 L1024.37 1090.31 L1031.28 1092.44 L1038.18 1094.59 L1045.09 1096.76 L1051.99 1098.94 L1058.9 1101.13 L1065.8 1103.32 L1072.71 1105.52 L1079.61 1107.7 L1086.52 1109.88 L1093.42 1112.05 L1100.32 1114.2 L1107.23 1116.33 L1114.13 1118.43 L1121.04 1120.51 L1127.94 1122.57 L1134.85 1124.61 L1141.75 1126.63 L1148.66 1128.65 L1155.56 1130.65 L1162.47 1132.65 L1169.37 1134.63 L1176.28 1136.61 L1183.18 1138.59 L1190.08 1140.55 L1196.99 1142.52 L1203.89 1144.48 L1210.8 1146.44 L1217.7 1148.4 L1224.61 1150.36 L1231.51 1152.33 L1238.42 1154.3 L1245.32 1156.27 L1252.23 1158.25 L1259.13 1160.24 L1266.03 1162.23 L1272.94 1164.24 L1279.84 1166.25 L1286.75 1168.28 L1293.65 1170.31 L1300.56 1172.35 L1307.46 1174.39 L1314.37 1176.44 L1321.27 1178.49 L1328.18 1180.54 L1335.08 1182.59 L1341.99 1184.65 L1348.89 1186.72 L1355.79 1188.78 L1362.7 1190.84 L1369.6 1192.91 L1376.51 1194.97 L1383.41 1197.04 L1390.32 1199.11 L1397.22 1201.17 L1404.13 1203.23 L1411.03 1205.3 L1417.94 1207.36 L1424.84 1209.43 L1431.74 1211.5 L1438.65 1213.57 L1445.55 1215.64 L1452.46 1217.71 L1459.36 1219.78 L1466.27 1221.86 L1473.17 1223.93 L1480.08 1226.01 L1486.98 1228.08 L1493.89 1230.16 L1500.79 1232.24 L1507.7 1234.32 L1514.6 1236.4" stroke="#CC79A7"/>
<path d="M210.23 833.32 L219.19 846.75 L226.86 843.55 L231.98 853.14 L238.37 848.66 L251.16 853.14 L266.51 863.37 L271.63 861.46 L278.03 866.57 L290.82 865.93 L297.21 869.77 L308.72 873.61 L316.4 871.69 L327.91 876.8 L333.03 880 L335.58 878.72 L341.98 884.48 L345.82 881.28 L354.77 887.68 L358.61 886.4 L368.84 892.79 L373.96 889.6 L389.31 897.91 L404.66 899.19 L420.01 904.94 L428 906.02 L435 909.14 L442 910.65 L449 912.03 L456 913.57 L463 916.12 L470 916.48 L477 919.69 L484 920.9 L491 922.51 L498 924.48 L505 926.57 L512 928.22 L519 929.94 L526 931.52 L533 933.74 L540 935.28 L547 937.38 L554 938.75 L561 941.76 L568 943.02 L575 944.19 L582 947.16 L589 948.61 L596 949.84 L603 951.9 L610 953.45 L617 956 L624 957.71 L631 959.44 L638 961.88 L645 963.13 L652 965.29 L659 966.91 L666 969.09 L673 970.79 L680 973.08 L687 974.89 L694 976.81 L701 978.77 L708 980.53 L715 982.56 L722 984.5 L729 986.45 L736 988.4 L743 990.46 L750 992.44 L757 994.4 L762 995.82 L768.9 997.78 L775.81 999.76 L782.71 1001.73 L789.62 1003.72 L796.52 1005.71 L803.43 1007.71 L810.33 1009.71 L817.24 1011.72 L824.14 1013.74 L831.05 1015.76 L837.95 1017.8 L844.86 1019.83 L851.76 1021.88 L858.66 1023.94 L865.57 1026 L872.47 1028.08 L879.38 1030.15 L886.28 1032.24 L893.19 1034.33 L900.09 1036.43 L907 1038.53 L913.9 1040.64 L920.81 1042.75 L927.71 1044.87 L934.61 1046.99 L941.52 1049.12 L948.42 1051.25 L955.33 1053.38 L962.23 1055.51 L969.14 1057.64 L976.04 1059.78 L982.95 1061.92 L989.85 1064.06 L996.76 1066.2 L1003.66 1068.33 L1010.57 1070.47 L1017.47 1072.61 L1024.37 1074.76 L1031.28 1076.9 L1038.18 1079.05 L1045.09 1081.2 L1051.99 1083.36 L1058.9 1085.52 L1065.8 1087.68 L1072.71 1089.85 L1079.61 1092.03 L1086.52 1094.21 L1093.42 1096.4 L1100.32 1098.6 L1107.23 1100.8 L1114.13 1103.01 L1121.04 1105.23 L1127.94 1107.47 L1134.85 1109.71 L1141.75 1111.96 L1148.66 1114.22 L1155.56 1116.49 L1162.47 1118.76 L1169.37 1121.04 L1176.28 1123.33 L1183.18 1125.63 L1190.08 1127.92 L1196.99 1130.23 L1203.89 1132.53 L1210.8 1134.84 L1217.7 1137.14 L1224.61 1139.45 L1231.51 1141.76 L1238.42 1144.07 L1245.32 1146.37 L1252.23 1148.68 L1259.13 1150.98 L1266.03 1153.27 L1272.94 1155.56 L1279.84 1157.85 L1286.75 1160.13 L1293.65 1162.41 L1300.56 1164.68 L1307.46 1166.95 L1314.37 1169.22 L1321.27 1171.49 L1328.18 1173.75 L1335.08 1176.02 L1341.99 1178.29 L1348.89 1180.56 L1355.79 1182.84 L1362.7 1185.11 L1369.6 1187.39 L1376.51 1189.68 L1383.41 1191.97 L1390.32 1194.27 L1397.22 1196.57 L1404.13 1198.88 L1411.03 1201.2 L1417.94 1203.52 L1424.84 1205.84 L1431.74 1208.17 L1438.65 1210.5 L1445.55 1212.83 L1452.46 1215.17 L1459.36 1217.52 L1466.27 1219.86 L1473.17 1222.21 L1480.08 1224.57 L1486.98 1226.93 L1493.89 1229.29 L1500.79 1231.66 L1507.7 1234.03 L1514.6 1236.4" stroke="#F0E442"/>
<path d="M210.23 794.94 L219.19 793.02 L228.14 800.06 L238.37 804.54 L244.13 802.62 L251.16 807.09 L263.95 812.21 L276.75 816.69 L282.5 820.52 L286.98 818.61 L291.46 823.08 L298.49 821.8 L306.17 825 L320.24 830.76 L327.91 831.4 L331.75 830.12 L335.58 833.32 L341.98 842.27 L345.82 837.79 L354.77 846.75 L358.61 841.63 L366.28 849.94 L371.4 849.94 L373.96 846.75 L381.63 853.14 L394.42 857.62 L404.66 858.9 L411.05 861.46 L420.01 864.01 L428 866.3 L435 868.38 L442 870.35 L449 872.15 L456 873.79 L463 875.93 L470 877.54 L477 881.05 L484 882.3 L491 884.23 L498 885.79 L505 888.33 L512 889.9 L519 891.57 L526 893.6 L533 896.55 L540 898.17 L547 900.27 L554 902.04 L561 904.56 L568 906.09 L575 908.17 L582 910.84 L589 912.79 L596 914.31 L603 916.48 L610 918.17 L617 921.6 L624 922.85 L631 924.88 L638 927.5 L645 929.14 L652 931.61 L659 933.18 L666 935.53 L673 937.77 L680 940.2 L687 942.24 L694 944.35 L701 946.58 L708 948.58 L715 950.79 L722 952.88 L729 954.97 L736 957.13 L743 959.41 L750 961.57 L757 963.72 L762 965.26 L768.9 967.41 L775.81 969.56 L782.71 971.71 L789.62 973.88 L796.52 976.05 L803.43 978.23 L810.33 980.43 L817.24 982.63 L824.14 984.85 L831.05 987.08 L837.95 989.33 L844.86 991.59 L851.76 993.87 L858.66 996.16 L865.57 998.47 L872.47 1000.79 L879.38 1003.12 L886.28 1005.47 L893.19 1007.82 L900.09 1010.18 L907 1012.55 L913.9 1014.93 L920.81 1017.32 L927.71 1019.71 L934.61 1022.1 L941.52 1024.51 L948.42 1026.91 L955.33 1029.32 L962.23 1031.73 L969.14 1034.14 L976.04 1036.55 L982.95 1038.96 L989.85 1041.37 L996.76 1043.77 L1003.66 1046.17 L1010.57 1048.58 L1017.47 1050.98 L1024.37 1053.38 L1031.28 1055.79 L1038.18 1058.19 L1045.09 1060.6 L1051.99 1063.02 L1058.9 1065.44 L1065.8 1067.87 L1072.71 1070.3 L1079.61 1072.74 L1086.52 1075.19 L1093.42 1077.64 L1100.32 1080.11 L1107.23 1082.59 L1114.13 1085.08 L1121.04 1087.58 L1127.94 1090.09 L1134.85 1092.62 L1141.75 1095.16 L1148.66 1097.72 L1155.56 1100.28 L1162.47 1102.85 L1169.37 1105.44 L1176.28 1108.03 L1183.18 1110.62 L1190.08 1113.23 L1196.99 1115.84 L1203.89 1118.45 L1210.8 1121.06 L1217.7 1123.68 L1224.61 1126.3 L1231.51 1128.91 L1238.42 1131.53 L1245.32 1134.14 L1252.23 1136.75 L1259.13 1139.36 L1266.03 1141.96 L1272.94 1144.55 L1279.84 1147.14 L1286.75 1149.72 L1293.65 1152.3 L1300.56 1154.87 L1307.46 1157.43 L1314.37 1160 L1321.27 1162.56 L1328.18 1165.12 L1335.08 1167.68 L1341.99 1170.24 L1348.89 1172.81 L1355.79 1175.38 L1362.7 1177.96 L1369.6 1180.54 L1376.51 1183.13 L1383.41 1185.72 L1390.32 1188.33 L1397.22 1190.94 L1404.13 1193.57 L1411.03 1196.2 L1417.94 1198.84 L1424.84 1201.49 L1431.74 1204.14 L1438.65 1206.79 L1445.55 1209.46 L1452.46 1212.12 L1459.36 1214.8 L1466.27 1217.48 L1473.17 1220.17 L1480.08 1222.86 L1486.98 1225.55 L1493.89 1228.26 L1500.79 1230.97 L1507.7 1233.68 L1514.6 1236.4" stroke="#56B4E9"/>
</g>
<rect x="209.1" y="720.2" width="1350.4" height="526.8" fill="none" stroke="#303030" stroke-width="2.0"/>
<g><line x1="244.71" y1="1247" x2="244.71" y2="1252.6" stroke="#303030" stroke-width="1.6"/><line x1="295.7" y1="1247" x2="295.7" y2="1252.6" stroke="#303030" stroke-width="1.6"/><line x1="335.25" y1="1247" x2="335.25" y2="1252.6" stroke="#303030" stroke-width="1.6"/><line x1="367.56" y1="1247" x2="367.56" y2="1252.6" stroke="#303030" stroke-width="1.6"/><line x1="394.88" y1="1247" x2="394.88" y2="1252.6" stroke="#303030" stroke-width="1.6"/><line x1="418.55" y1="1247" x2="418.55" y2="1252.6" stroke="#303030" stroke-width="1.6"/><line x1="439.43" y1="1247" x2="439.43" y2="1252.6" stroke="#303030" stroke-width="1.6"/><line x1="458.1" y1="1247" x2="458.1" y2="1255.6" stroke="#303030" stroke-width="2"/><line x1="580.95" y1="1247" x2="580.95" y2="1252.6" stroke="#303030" stroke-width="1.6"/><line x1="652.81" y1="1247" x2="652.81" y2="1252.6" stroke="#303030" stroke-width="1.6"/><line x1="703.8" y1="1247" x2="703.8" y2="1252.6" stroke="#303030" stroke-width="1.6"/><line x1="743.35" y1="1247" x2="743.35" y2="1252.6" stroke="#303030" stroke-width="1.6"/><line x1="775.66" y1="1247" x2="775.66" y2="1252.6" stroke="#303030" stroke-width="1.6"/><line x1="802.98" y1="1247" x2="802.98" y2="1252.6" stroke="#303030" stroke-width="1.6"/><line x1="826.65" y1="1247" x2="826.65" y2="1252.6" stroke="#303030" stroke-width="1.6"/><line x1="847.53" y1="1247" x2="847.53" y2="1252.6" stroke="#303030" stroke-width="1.6"/><line x1="866.2" y1="1247" x2="866.2" y2="1255.6" stroke="#303030" stroke-width="2"/><line x1="989.05" y1="1247" x2="989.05" y2="1252.6" stroke="#303030" stroke-width="1.6"/><line x1="1060.91" y1="1247" x2="1060.91" y2="1252.6" stroke="#303030" stroke-width="1.6"/><line x1="1111.9" y1="1247" x2="1111.9" y2="1252.6" stroke="#303030" stroke-width="1.6"/><line x1="1151.45" y1="1247" x2="1151.45" y2="1252.6" stroke="#303030" stroke-width="1.6"/><line x1="1183.76" y1="1247" x2="1183.76" y2="1252.6" stroke="#303030" stroke-width="1.6"/><line x1="1211.08" y1="1247" x2="1211.08" y2="1252.6" stroke="#303030" stroke-width="1.6"/><line x1="1234.75" y1="1247" x2="1234.75" y2="1252.6" stroke="#303030" stroke-width="1.6"/><line x1="1255.63" y1="1247" x2="1255.63" y2="1252.6" stroke="#303030" stroke-width="1.6"/><line x1="1274.3" y1="1247" x2="1274.3" y2="1255.6" stroke="#303030" stroke-width="2"/><line x1="1397.15" y1="1247" x2="1397.15" y2="1252.6" stroke="#303030" stroke-width="1.6"/><line x1="1469.01" y1="1247" x2="1469.01" y2="1252.6" stroke="#303030" stroke-width="1.6"/><line x1="1520" y1="1247" x2="1520" y2="1252.6" stroke="#303030" stroke-width="1.6"/><line x1="1559.55" y1="1247" x2="1559.55" y2="1252.6" stroke="#303030" stroke-width="1.6"/><line x1="200.8" y1="1236" x2="209.1" y2="1236" stroke="#303030" stroke-width="2"/><line x1="200.8" y1="1133.68" x2="209.1" y2="1133.68" stroke="#303030" stroke-width="2"/><line x1="200.8" y1="1031.36" x2="209.1" y2="1031.36" stroke="#303030" stroke-width="2"/><line x1="200.8" y1="929.04" x2="209.1" y2="929.04" stroke="#303030" stroke-width="2"/><line x1="200.8" y1="826.72" x2="209.1" y2="826.72" stroke="#303030" stroke-width="2"/><line x1="200.8" y1="724.4" x2="209.1" y2="724.4" stroke="#303030" stroke-width="2"/></g>
<g font-family='"DejaVu Sans", "Liberation Sans", sans-serif' font-size="28.7" fill="#000"><text transform="translate(191.6,1246.8) scale(1,1.02)" text-anchor="end">0</text><text transform="translate(191.6,1144.48) scale(1,1.02)" text-anchor="end">50</text><text transform="translate(191.6,1042.16) scale(1,1.02)" text-anchor="end">100</text><text transform="translate(191.6,939.84) scale(1,1.02)" text-anchor="end">150</text><text transform="translate(191.6,837.52) scale(1,1.02)" text-anchor="end">200</text><text transform="translate(191.6,735.2) scale(1,1.02)" text-anchor="end">250</text><text x="458.8" y="1285.4" text-anchor="middle">10<tspan font-size="20.3" dx="1.2" dy="-11.6">−3</tspan></text><text x="866.9" y="1285.4" text-anchor="middle">10<tspan font-size="20.3" dx="1.2" dy="-11.6">−2</tspan></text><text x="1275" y="1285.4" text-anchor="middle">10<tspan font-size="20.3" dx="1.2" dy="-11.6">−1</tspan></text></g>
<text transform="translate(884.3,705.2) scale(1,0.95)" text-anchor="middle" font-family='"DejaVu Sans", "Liberation Sans", sans-serif' font-size="34.8" fill="#000">Relaxation curves of immobilized BNF</text>
<text transform="translate(885.5,1326.9) scale(1,0.955)" text-anchor="middle" font-family='"DejaVu Sans", "Liberation Sans", sans-serif' font-size="33.9" fill="#000"><tspan font-style="oblique">t</tspan> (s)</text>
<text transform="translate(119.4,982.8) rotate(-90) scale(1,0.94)" text-anchor="middle" font-family='"DejaVu Sans", "Liberation Sans", sans-serif' font-size="33.9" fill="#000"><tspan font-style="oblique">B</tspan> (pT)</text>
<rect x="1356.3" y="734.3" width="188.3" height="264.6" rx="5.5" fill="#fff" fill-opacity="0.8" stroke="#cfcfcf" stroke-width="2"/>
<g font-family='"DejaVu Sans", "Liberation Sans", sans-serif' font-size="28.7" fill="#000"><line x1="1365.1" y1="758.4" x2="1428.9" y2="758.4" stroke="#0072B2" stroke-width="4.8"/><text x="1450.2" y="768">299 K</text><line x1="1365.1" y1="801.06" x2="1428.9" y2="801.06" stroke="#009E73" stroke-width="4.8"/><text x="1450.2" y="810.66">308 K</text><line x1="1365.1" y1="843.72" x2="1428.9" y2="843.72" stroke="#D55E00" stroke-width="4.8"/><text x="1450.2" y="853.32">316 K</text><line x1="1365.1" y1="886.38" x2="1428.9" y2="886.38" stroke="#CC79A7" stroke-width="4.8"/><text x="1450.2" y="895.98">325 K</text><line x1="1365.1" y1="929.04" x2="1428.9" y2="929.04" stroke="#F0E442" stroke-width="4.8"/><text x="1450.2" y="938.64">330 K</text><line x1="1365.1" y1="971.7" x2="1428.9" y2="971.7" stroke="#56B4E9" stroke-width="4.8"/><text x="1450.2" y="981.3">335 K</text></g>
<path d="M230.7 954.2 L230.7 780" stroke="#000" stroke-width="5.2" fill="none"/>
<path d="M230.7 754.8 L219.1 792.6 L230.7 780 L242.1 792.6 Z" fill="#000"/>
<text x="236.9" y="974.3" font-family='"Liberation Sans", "DejaVu Sans", sans-serif' font-size="37.2" fill="#000">T</text>
<g transform="translate(283.8,771.3) scale(0.93,1)"><text x="0" y="0" font-family='"Liberation Sans", "DejaVu Sans", sans-serif' font-size="42.8" fill="#000"><tspan dy="-1.4">(</tspan><tspan font-size="46" dy="1.4">b</tspan><tspan dy="-1.4">)</tspan></text></g>
<g stroke="#b4b4b4"><line x1="185.1" y1="1366.6" x2="185.1" y2="1952.9" stroke-width="1.6"/><line x1="269.19" y1="1366.6" x2="269.19" y2="1952.9" stroke-width="1.6"/><line x1="353.27" y1="1366.6" x2="353.27" y2="1952.9" stroke-width="1.6"/><line x1="437.36" y1="1366.6" x2="437.36" y2="1952.9" stroke-width="1.6"/><line x1="521.44" y1="1366.6" x2="521.44" y2="1952.9" stroke-width="1.6"/><line x1="605.52" y1="1366.6" x2="605.52" y2="1952.9" stroke-width="1.6"/><line x1="689.61" y1="1366.6" x2="689.61" y2="1952.9" stroke-width="1.6"/><line x1="773.7" y1="1366.6" x2="773.7" y2="1952.9" stroke-width="1.6"/><line x1="118.4" y1="1886.1" x2="840.8" y2="1886.1" stroke-width="1.9"/><line x1="118.4" y1="1819" x2="840.8" y2="1819" stroke-width="1.9"/><line x1="118.4" y1="1751.9" x2="840.8" y2="1751.9" stroke-width="1.9"/><line x1="118.4" y1="1684.8" x2="840.8" y2="1684.8" stroke-width="1.9"/><line x1="118.4" y1="1617.7" x2="840.8" y2="1617.7" stroke-width="1.9"/><line x1="118.4" y1="1550.6" x2="840.8" y2="1550.6" stroke-width="1.9"/><line x1="118.4" y1="1483.5" x2="840.8" y2="1483.5" stroke-width="1.9"/><line x1="118.4" y1="1416.4" x2="840.8" y2="1416.4" stroke-width="1.9"/></g>
<g stroke="#FF8C00"><path d="M168.28 1466.05 L319.64 1487.02 L454.17 1497.93 L605.52 1506.31 L689.61 1525.1 L773.7 1532.48" fill="none" stroke-width="3.3" stroke-dasharray="3.3 5.44"/><path d="M161.22 1466.05 H175.35" fill="none" stroke-width="4.8"/><path d="M161.22 1455.05 V1477.05 M175.35 1455.05 V1477.05" fill="none" stroke-width="4.5"/><circle cx="168.28" cy="1466.05" r="7.6" fill="#FF8C00" stroke="none"/><path d="M307.53 1487.02 H331.74" fill="none" stroke-width="4.8"/><path d="M307.53 1476.02 V1498.02 M331.74 1476.02 V1498.02" fill="none" stroke-width="4.5"/><circle cx="319.64" cy="1487.02" r="7.6" fill="#FF8C00" stroke="none"/><path d="M428.95 1497.93 H479.4" fill="none" stroke-width="4.8"/><path d="M428.95 1486.93 V1508.93 M479.4 1486.93 V1508.93" fill="none" stroke-width="4.5"/><circle cx="454.17" cy="1497.93" r="7.6" fill="#FF8C00" stroke="none"/><path d="M571.89 1506.31 H639.16" fill="none" stroke-width="4.8"/><path d="M571.89 1495.31 V1517.31 M639.16 1495.31 V1517.31" fill="none" stroke-width="4.5"/><circle cx="605.52" cy="1506.31" r="7.6" fill="#FF8C00" stroke="none"/><path d="M639.16 1525.1 H740.06" fill="none" stroke-width="4.8"/><path d="M639.16 1514.1 V1536.1 M740.06 1514.1 V1536.1" fill="none" stroke-width="4.5"/><circle cx="689.61" cy="1525.1" r="7.6" fill="#FF8C00" stroke="none"/><path d="M731.65 1532.48 H815.74" fill="none" stroke-width="4.8"/><path d="M731.65 1521.48 V1543.48 M815.74 1521.48 V1543.48" fill="none" stroke-width="4.5"/><circle cx="773.7" cy="1532.48" r="7.6" fill="#FF8C00" stroke="none"/></g>
<g stroke="#008000"><path d="M168.28 1791.15 L319.64 1803.9 L454.17 1809.27 L605.52 1820.34 L689.61 1828.39 L773.7 1838.79" fill="none" stroke-width="3.3" stroke-dasharray="3.3 5.44"/><path d="M161.22 1791.15 H175.35" fill="none" stroke-width="4.8"/><path d="M161.22 1780.15 V1802.15 M175.35 1780.15 V1802.15" fill="none" stroke-width="4.5"/><circle cx="168.28" cy="1791.15" r="7.6" fill="#008000" stroke="none"/><path d="M307.53 1803.9 H331.74" fill="none" stroke-width="4.8"/><path d="M307.53 1792.9 V1814.9 M331.74 1792.9 V1814.9" fill="none" stroke-width="4.5"/><circle cx="319.64" cy="1803.9" r="7.6" fill="#008000" stroke="none"/><path d="M428.95 1809.27 H479.4" fill="none" stroke-width="4.8"/><path d="M428.95 1798.27 V1820.27 M479.4 1798.27 V1820.27" fill="none" stroke-width="4.5"/><circle cx="454.17" cy="1809.27" r="7.6" fill="#008000" stroke="none"/><path d="M571.89 1820.34 H639.16" fill="none" stroke-width="4.8"/><path d="M571.89 1809.34 V1831.34 M639.16 1809.34 V1831.34" fill="none" stroke-width="4.5"/><circle cx="605.52" cy="1820.34" r="7.6" fill="#008000" stroke="none"/><path d="M639.16 1828.39 H740.06" fill="none" stroke-width="4.8"/><path d="M639.16 1817.39 V1839.39 M740.06 1817.39 V1839.39" fill="none" stroke-width="4.5"/><circle cx="689.61" cy="1828.39" r="7.6" fill="#008000" stroke="none"/><path d="M731.65 1838.79 H815.74" fill="none" stroke-width="4.8"/><path d="M731.65 1827.79 V1849.79 M815.74 1827.79 V1849.79" fill="none" stroke-width="4.5"/><circle cx="773.7" cy="1838.79" r="7.6" fill="#008000" stroke="none"/></g>
<g stroke="#FF0000"><path d="M168.28 1900.86 L319.64 1896.84 L454.17 1893.82 L605.52 1891.8 L689.61 1887.11 L773.7 1880.73" fill="none" stroke-width="3.3" stroke-dasharray="3.3 5.44"/><path d="M161.22 1900.86 H175.35" fill="none" stroke-width="4.8"/><path d="M161.22 1889.86 V1911.86 M175.35 1889.86 V1911.86" fill="none" stroke-width="4.5"/><circle cx="168.28" cy="1900.86" r="7.6" fill="#FF0000" stroke="none"/><path d="M307.53 1896.84 H331.74" fill="none" stroke-width="4.8"/><path d="M307.53 1885.84 V1907.84 M331.74 1885.84 V1907.84" fill="none" stroke-width="4.5"/><circle cx="319.64" cy="1896.84" r="7.6" fill="#FF0000" stroke="none"/><path d="M428.95 1893.82 H479.4" fill="none" stroke-width="4.8"/><path d="M428.95 1882.82 V1904.82 M479.4 1882.82 V1904.82" fill="none" stroke-width="4.5"/><circle cx="454.17" cy="1893.82" r="7.6" fill="#FF0000" stroke="none"/><path d="M571.89 1891.8 H639.16" fill="none" stroke-width="4.8"/><path d="M571.89 1880.8 V1902.8 M639.16 1880.8 V1902.8" fill="none" stroke-width="4.5"/><circle cx="605.52" cy="1891.8" r="7.6" fill="#FF0000" stroke="none"/><path d="M639.16 1887.11 H740.06" fill="none" stroke-width="4.8"/><path d="M639.16 1876.11 V1898.11 M740.06 1876.11 V1898.11" fill="none" stroke-width="4.5"/><circle cx="689.61" cy="1887.11" r="7.6" fill="#FF0000" stroke="none"/><path d="M731.65 1880.73 H815.74" fill="none" stroke-width="4.8"/><path d="M731.65 1869.73 V1891.73 M815.74 1869.73 V1891.73" fill="none" stroke-width="4.5"/><circle cx="773.7" cy="1880.73" r="7.6" fill="#FF0000" stroke="none"/></g>
<g stroke="#0000FF"><path d="M168.28 1919.31 L319.64 1917.8 L454.17 1916.3 L605.52 1914.28 L689.61 1913.11 L773.7 1909.25" fill="none" stroke-width="3.3" stroke-dasharray="3.3 5.44"/><path d="M161.22 1919.31 H175.35" fill="none" stroke-width="4.8"/><path d="M161.22 1908.31 V1930.31 M175.35 1908.31 V1930.31" fill="none" stroke-width="4.5"/><circle cx="168.28" cy="1919.31" r="7.6" fill="#0000FF" stroke="none"/><path d="M307.53 1917.8 H331.74" fill="none" stroke-width="4.8"/><path d="M307.53 1906.8 V1928.8 M331.74 1906.8 V1928.8" fill="none" stroke-width="4.5"/><circle cx="319.64" cy="1917.8" r="7.6" fill="#0000FF" stroke="none"/><path d="M428.95 1916.3 H479.4" fill="none" stroke-width="4.8"/><path d="M428.95 1905.3 V1927.3 M479.4 1905.3 V1927.3" fill="none" stroke-width="4.5"/><circle cx="454.17" cy="1916.3" r="7.6" fill="#0000FF" stroke="none"/><path d="M571.89 1914.28 H639.16" fill="none" stroke-width="4.8"/><path d="M571.89 1903.28 V1925.28 M639.16 1903.28 V1925.28" fill="none" stroke-width="4.5"/><circle cx="605.52" cy="1914.28" r="7.6" fill="#0000FF" stroke="none"/><path d="M639.16 1913.11 H740.06" fill="none" stroke-width="4.8"/><path d="M639.16 1902.11 V1924.11 M740.06 1902.11 V1924.11" fill="none" stroke-width="4.5"/><circle cx="689.61" cy="1913.11" r="7.6" fill="#0000FF" stroke="none"/><path d="M731.65 1909.25 H815.74" fill="none" stroke-width="4.8"/><path d="M731.65 1898.25 V1920.25 M815.74 1898.25 V1920.25" fill="none" stroke-width="4.5"/><circle cx="773.7" cy="1909.25" r="7.6" fill="#0000FF" stroke="none"/></g>
<path d="M118.4 1366.6 H840.8" fill="none" stroke="#3a3a3a" stroke-width="2.0"/>
<path d="M118.4 1365.6 V1952.9 H840.4 V1365.6" fill="none" stroke="#0a0a0a" stroke-width="2.8" stroke-linejoin="miter"/>
<g stroke="#0a0a0a" stroke-width="2"><line x1="185.1" y1="1952.9" x2="185.1" y2="1960.7"/><line x1="269.19" y1="1952.9" x2="269.19" y2="1960.7"/><line x1="353.27" y1="1952.9" x2="353.27" y2="1960.7"/><line x1="437.36" y1="1952.9" x2="437.36" y2="1960.7"/><line x1="521.44" y1="1952.9" x2="521.44" y2="1960.7"/><line x1="605.52" y1="1952.9" x2="605.52" y2="1960.7"/><line x1="689.61" y1="1952.9" x2="689.61" y2="1960.7"/><line x1="773.7" y1="1952.9" x2="773.7" y2="1960.7"/><line x1="110.6" y1="1953.2" x2="118.4" y2="1953.2"/><line x1="110.6" y1="1886.1" x2="118.4" y2="1886.1"/><line x1="110.6" y1="1819" x2="118.4" y2="1819"/><line x1="110.6" y1="1751.9" x2="118.4" y2="1751.9"/><line x1="110.6" y1="1684.8" x2="118.4" y2="1684.8"/><line x1="110.6" y1="1617.7" x2="118.4" y2="1617.7"/><line x1="110.6" y1="1550.6" x2="118.4" y2="1550.6"/><line x1="110.6" y1="1483.5" x2="118.4" y2="1483.5"/><line x1="110.6" y1="1416.4" x2="118.4" y2="1416.4"/></g>
<g font-family='"DejaVu Sans", "Liberation Sans", sans-serif' font-size="25.5" fill="#000"><text transform="translate(185.1,1987.7) scale(1,1.05)" text-anchor="middle">300</text><text transform="translate(269.19,1987.7) scale(1,1.05)" text-anchor="middle">305</text><text transform="translate(353.27,1987.7) scale(1,1.05)" text-anchor="middle">310</text><text transform="translate(437.36,1987.7) scale(1,1.05)" text-anchor="middle">315</text><text transform="translate(521.44,1987.7) scale(1,1.05)" text-anchor="middle">320</text><text transform="translate(605.52,1987.7) scale(1,1.05)" text-anchor="middle">325</text><text transform="translate(689.61,1987.7) scale(1,1.05)" text-anchor="middle">330</text><text transform="translate(773.7,1987.7) scale(1,1.05)" text-anchor="middle">335</text><text transform="translate(102,1963) scale(1,1.05)" text-anchor="end">0</text><text transform="translate(102,1895.9) scale(1,1.05)" text-anchor="end">200</text><text transform="translate(102,1828.8) scale(1,1.05)" text-anchor="end">400</text><text transform="translate(102,1761.7) scale(1,1.05)" text-anchor="end">600</text><text transform="translate(102,1694.6) scale(1,1.05)" text-anchor="end">800</text><text transform="translate(102,1627.5) scale(1,1.05)" text-anchor="end">1000</text><text transform="translate(102,1560.4) scale(1,1.05)" text-anchor="end">1200</text><text transform="translate(102,1493.3) scale(1,1.05)" text-anchor="end">1400</text><text transform="translate(102,1426.2) scale(1,1.05)" text-anchor="end">1600</text></g>
<text transform="translate(480.5,2022.8) scale(1,0.955)" text-anchor="middle" font-family='"DejaVu Sans", "Liberation Sans", sans-serif' font-size="28" fill="#000"><tspan font-style="oblique">T</tspan> (K)</text>
<text transform="translate(21.3,1659.75) rotate(-90) scale(1,0.93)" text-anchor="middle" font-family='"DejaVu Sans", "Liberation Sans", sans-serif' font-size="28" fill="#000">Δ<tspan font-style="oblique">B</tspan> (pT)</text>
<rect x="610.1" y="1597.4" width="217.8" height="158.9" rx="5" fill="#fff" fill-opacity="0.8" stroke="#cfcfcf" stroke-width="2"/>
<g stroke="#FF8C00"><path d="M619.7 1618.65 H672.6" fill="none" stroke-width="3.3" stroke-dasharray="3.3 5.44"/><path d="M630.4 1618.65 H661.8" fill="none" stroke-width="4.2"/><path d="M633.2 1608.05 V1629.25 M659 1608.05 V1629.25" fill="none" stroke-width="4.4"/><circle cx="646.1" cy="1618.65" r="7.2" fill="#FF8C00" stroke="none"/></g>
<text x="692.3" y="1627.25" font-family='"DejaVu Sans", "Liberation Sans", sans-serif' font-size="25.8" fill="#000">Synomag</text>
<g stroke="#008000"><path d="M619.7 1656.85 H672.6" fill="none" stroke-width="3.3" stroke-dasharray="3.3 5.44"/><path d="M630.4 1656.85 H661.8" fill="none" stroke-width="4.2"/><path d="M633.2 1646.25 V1667.45 M659 1646.25 V1667.45" fill="none" stroke-width="4.4"/><circle cx="646.1" cy="1656.85" r="7.2" fill="#008000" stroke="none"/></g>
<text x="692.3" y="1665.45" font-family='"DejaVu Sans", "Liberation Sans", sans-serif' font-size="25.8" fill="#000">Perimag</text>
<g stroke="#FF0000"><path d="M619.7 1695.05 H672.6" fill="none" stroke-width="3.3" stroke-dasharray="3.3 5.44"/><path d="M630.4 1695.05 H661.8" fill="none" stroke-width="4.2"/><path d="M633.2 1684.45 V1705.65 M659 1684.45 V1705.65" fill="none" stroke-width="4.4"/><circle cx="646.1" cy="1695.05" r="7.2" fill="#FF0000" stroke="none"/></g>
<text x="692.3" y="1703.65" font-family='"DejaVu Sans", "Liberation Sans", sans-serif' font-size="25.8" fill="#000">BNF</text>
<g stroke="#0000FF"><path d="M619.7 1733.25 H672.6" fill="none" stroke-width="3.3" stroke-dasharray="3.3 5.44"/><path d="M630.4 1733.25 H661.8" fill="none" stroke-width="4.2"/><path d="M633.2 1722.65 V1743.85 M659 1722.65 V1743.85" fill="none" stroke-width="4.4"/><circle cx="646.1" cy="1733.25" r="7.2" fill="#0000FF" stroke="none"/></g>
<text x="692.3" y="1741.85" font-family='"DejaVu Sans", "Liberation Sans", sans-serif' font-size="25.8" fill="#000">Nanomag</text>
<g transform="translate(150.8,1423.3) scale(0.93,1)"><text x="0" y="0" font-family='"Liberation Sans", "DejaVu Sans", sans-serif' font-size="42.8" fill="#000"><tspan dy="-1.4">(</tspan><tspan font-size="46" dy="1.4">c</tspan><tspan dy="-1.4">)</tspan></text></g>
<g stroke="#b4b4b4"><line x1="1057.7" y1="1363.6" x2="1057.7" y2="1952.8" stroke-width="2.0"/><line x1="1142" y1="1363.6" x2="1142" y2="1952.8" stroke-width="2.0"/><line x1="1226.3" y1="1363.6" x2="1226.3" y2="1952.8" stroke-width="2.0"/><line x1="1310.6" y1="1363.6" x2="1310.6" y2="1952.8" stroke-width="2.0"/><line x1="1394.9" y1="1363.6" x2="1394.9" y2="1952.8" stroke-width="2.0"/><line x1="1479.2" y1="1363.6" x2="1479.2" y2="1952.8" stroke-width="2.0"/><line x1="1563.5" y1="1363.6" x2="1563.5" y2="1952.8" stroke-width="2.0"/><line x1="1647.8" y1="1363.6" x2="1647.8" y2="1952.8" stroke-width="2.0"/><line x1="990.2" y1="1873.18" x2="1715.7" y2="1873.18" stroke-width="1.8"/><line x1="990.2" y1="1793.57" x2="1715.7" y2="1793.57" stroke-width="1.8"/><line x1="990.2" y1="1713.95" x2="1715.7" y2="1713.95" stroke-width="1.8"/><line x1="990.2" y1="1634.34" x2="1715.7" y2="1634.34" stroke-width="1.8"/><line x1="990.2" y1="1554.72" x2="1715.7" y2="1554.72" stroke-width="1.8"/><line x1="990.2" y1="1475.11" x2="1715.7" y2="1475.11" stroke-width="1.8"/><line x1="990.2" y1="1395.49" x2="1715.7" y2="1395.49" stroke-width="1.8"/></g>
<g stroke="#FF8C00"><path d="M1040.84 1803.92 L1192.58 1809.49 L1327.46 1815.07 L1479.2 1815.07 L1563.5 1815.07 L1647.8 1820.64" fill="none" stroke-width="3.3" stroke-dasharray="3.3 5.44"/><path d="M1033.76 1803.92 H1047.92" fill="none" stroke-width="4.8"/><path d="M1033.76 1792.92 V1814.92 M1047.92 1792.92 V1814.92" fill="none" stroke-width="4.5"/><circle cx="1040.84" cy="1803.92" r="7.6" fill="#FF8C00" stroke="none"/><path d="M1180.44 1809.49 H1204.72" fill="none" stroke-width="4.8"/><path d="M1180.44 1798.49 V1820.49 M1204.72 1798.49 V1820.49" fill="none" stroke-width="4.5"/><circle cx="1192.58" cy="1809.49" r="7.6" fill="#FF8C00" stroke="none"/><path d="M1302.17 1815.07 H1352.75" fill="none" stroke-width="4.8"/><path d="M1302.17 1804.07 V1826.07 M1352.75 1804.07 V1826.07" fill="none" stroke-width="4.5"/><circle cx="1327.46" cy="1815.07" r="7.6" fill="#FF8C00" stroke="none"/><path d="M1445.48 1815.07 H1512.92" fill="none" stroke-width="4.8"/><path d="M1445.48 1804.07 V1826.07 M1512.92 1804.07 V1826.07" fill="none" stroke-width="4.5"/><circle cx="1479.2" cy="1815.07" r="7.6" fill="#FF8C00" stroke="none"/><path d="M1512.92 1815.07 H1614.08" fill="none" stroke-width="4.8"/><path d="M1512.92 1804.07 V1826.07 M1614.08 1804.07 V1826.07" fill="none" stroke-width="4.5"/><circle cx="1563.5" cy="1815.07" r="7.6" fill="#FF8C00" stroke="none"/><path d="M1605.65 1820.64 H1689.95" fill="none" stroke-width="4.8"/><path d="M1605.65 1809.64 V1831.64 M1689.95 1809.64 V1831.64" fill="none" stroke-width="4.5"/><circle cx="1647.8" cy="1820.64" r="7.6" fill="#FF8C00" stroke="none"/></g>
<g stroke="#008000"><path d="M1040.84 1830.99 L1192.58 1835.77 L1327.46 1840.54 L1479.2 1840.54 L1563.5 1849.3 L1647.8 1849.3" fill="none" stroke-width="3.3" stroke-dasharray="3.3 5.44"/><path d="M1033.76 1830.99 H1047.92" fill="none" stroke-width="4.8"/><path d="M1033.76 1819.99 V1841.99 M1047.92 1819.99 V1841.99" fill="none" stroke-width="4.5"/><circle cx="1040.84" cy="1830.99" r="7.6" fill="#008000" stroke="none"/><path d="M1180.44 1835.77 H1204.72" fill="none" stroke-width="4.8"/><path d="M1180.44 1824.77 V1846.77 M1204.72 1824.77 V1846.77" fill="none" stroke-width="4.5"/><circle cx="1192.58" cy="1835.77" r="7.6" fill="#008000" stroke="none"/><path d="M1302.17 1840.54 H1352.75" fill="none" stroke-width="4.8"/><path d="M1302.17 1829.54 V1851.54 M1352.75 1829.54 V1851.54" fill="none" stroke-width="4.5"/><circle cx="1327.46" cy="1840.54" r="7.6" fill="#008000" stroke="none"/><path d="M1445.48 1840.54 H1512.92" fill="none" stroke-width="4.8"/><path d="M1445.48 1829.54 V1851.54 M1512.92 1829.54 V1851.54" fill="none" stroke-width="4.5"/><circle cx="1479.2" cy="1840.54" r="7.6" fill="#008000" stroke="none"/><path d="M1512.92 1849.3 H1614.08" fill="none" stroke-width="4.8"/><path d="M1512.92 1838.3 V1860.3 M1614.08 1838.3 V1860.3" fill="none" stroke-width="4.5"/><circle cx="1563.5" cy="1849.3" r="7.6" fill="#008000" stroke="none"/><path d="M1605.65 1849.3 H1689.95" fill="none" stroke-width="4.8"/><path d="M1605.65 1838.3 V1860.3 M1689.95 1838.3 V1860.3" fill="none" stroke-width="4.5"/><circle cx="1647.8" cy="1849.3" r="7.6" fill="#008000" stroke="none"/></g>
<g stroke="#FF0000"><path d="M1040.84 1489.12 L1192.58 1489.12 L1327.46 1506.96 L1479.2 1489.12 L1563.5 1449.63 L1647.8 1406.64" fill="none" stroke-width="3.3" stroke-dasharray="3.3 5.44"/><path d="M1033.76 1489.12 H1047.92" fill="none" stroke-width="4.8"/><path d="M1033.76 1478.12 V1500.12 M1047.92 1478.12 V1500.12" fill="none" stroke-width="4.5"/><circle cx="1040.84" cy="1489.12" r="7.6" fill="#FF0000" stroke="none"/><path d="M1180.44 1489.12 H1204.72" fill="none" stroke-width="4.8"/><path d="M1180.44 1478.12 V1500.12 M1204.72 1478.12 V1500.12" fill="none" stroke-width="4.5"/><circle cx="1192.58" cy="1489.12" r="7.6" fill="#FF0000" stroke="none"/><path d="M1302.17 1506.96 H1352.75" fill="none" stroke-width="4.8"/><path d="M1302.17 1495.96 V1517.96 M1352.75 1495.96 V1517.96" fill="none" stroke-width="4.5"/><circle cx="1327.46" cy="1506.96" r="7.6" fill="#FF0000" stroke="none"/><path d="M1445.48 1489.12 H1512.92" fill="none" stroke-width="4.8"/><path d="M1445.48 1478.12 V1500.12 M1512.92 1478.12 V1500.12" fill="none" stroke-width="4.5"/><circle cx="1479.2" cy="1489.12" r="7.6" fill="#FF0000" stroke="none"/><path d="M1512.92 1449.63 H1614.08" fill="none" stroke-width="4.8"/><path d="M1512.92 1438.63 V1460.63 M1614.08 1438.63 V1460.63" fill="none" stroke-width="4.5"/><circle cx="1563.5" cy="1449.63" r="7.6" fill="#FF0000" stroke="none"/><path d="M1605.65 1406.64 H1689.95" fill="none" stroke-width="4.8"/><path d="M1605.65 1395.64 V1417.64 M1689.95 1395.64 V1417.64" fill="none" stroke-width="4.5"/><circle cx="1647.8" cy="1406.64" r="7.6" fill="#FF0000" stroke="none"/></g>
<g stroke="#0000FF"><path d="M1040.84 1604.09 L1192.58 1574.63 L1327.46 1574.63 L1479.2 1574.63 L1563.5 1565.87 L1647.8 1567.46" fill="none" stroke-width="3.3" stroke-dasharray="3.3 5.44"/><path d="M1033.76 1604.09 H1047.92" fill="none" stroke-width="4.8"/><path d="M1033.76 1593.09 V1615.09 M1047.92 1593.09 V1615.09" fill="none" stroke-width="4.5"/><circle cx="1040.84" cy="1604.09" r="7.6" fill="#0000FF" stroke="none"/><path d="M1180.44 1574.63 H1204.72" fill="none" stroke-width="4.8"/><path d="M1180.44 1563.63 V1585.63 M1204.72 1563.63 V1585.63" fill="none" stroke-width="4.5"/><circle cx="1192.58" cy="1574.63" r="7.6" fill="#0000FF" stroke="none"/><path d="M1302.17 1574.63 H1352.75" fill="none" stroke-width="4.8"/><path d="M1302.17 1563.63 V1585.63 M1352.75 1563.63 V1585.63" fill="none" stroke-width="4.5"/><circle cx="1327.46" cy="1574.63" r="7.6" fill="#0000FF" stroke="none"/><path d="M1445.48 1574.63 H1512.92" fill="none" stroke-width="4.8"/><path d="M1445.48 1563.63 V1585.63 M1512.92 1563.63 V1585.63" fill="none" stroke-width="4.5"/><circle cx="1479.2" cy="1574.63" r="7.6" fill="#0000FF" stroke="none"/><path d="M1512.92 1565.87 H1614.08" fill="none" stroke-width="4.8"/><path d="M1512.92 1554.87 V1576.87 M1614.08 1554.87 V1576.87" fill="none" stroke-width="4.5"/><circle cx="1563.5" cy="1565.87" r="7.6" fill="#0000FF" stroke="none"/><path d="M1605.65 1567.46 H1689.95" fill="none" stroke-width="4.8"/><path d="M1605.65 1556.46 V1578.46 M1689.95 1556.46 V1578.46" fill="none" stroke-width="4.5"/><circle cx="1647.8" cy="1567.46" r="7.6" fill="#0000FF" stroke="none"/></g>
<rect x="990.2" y="1363.6" width="725.5" height="589.2" fill="none" stroke="#303030" stroke-width="2.2"/>
<g stroke="#303030" stroke-width="2"><line x1="1057.7" y1="1952.8" x2="1057.7" y2="1960.6"/><line x1="1142" y1="1952.8" x2="1142" y2="1960.6"/><line x1="1226.3" y1="1952.8" x2="1226.3" y2="1960.6"/><line x1="1310.6" y1="1952.8" x2="1310.6" y2="1960.6"/><line x1="1394.9" y1="1952.8" x2="1394.9" y2="1960.6"/><line x1="1479.2" y1="1952.8" x2="1479.2" y2="1960.6"/><line x1="1563.5" y1="1952.8" x2="1563.5" y2="1960.6"/><line x1="1647.8" y1="1952.8" x2="1647.8" y2="1960.6"/><line x1="982.4" y1="1952.8" x2="990.2" y2="1952.8"/><line x1="982.4" y1="1873.18" x2="990.2" y2="1873.18"/><line x1="982.4" y1="1793.57" x2="990.2" y2="1793.57"/><line x1="982.4" y1="1713.95" x2="990.2" y2="1713.95"/><line x1="982.4" y1="1634.34" x2="990.2" y2="1634.34"/><line x1="982.4" y1="1554.72" x2="990.2" y2="1554.72"/><line x1="982.4" y1="1475.11" x2="990.2" y2="1475.11"/><line x1="982.4" y1="1395.49" x2="990.2" y2="1395.49"/></g>
<g font-family='"DejaVu Sans", "Liberation Sans", sans-serif' font-size="25.5" fill="#000"><text transform="translate(1057.7,1987.7) scale(1,1.05)" text-anchor="middle">300</text><text transform="translate(1142,1987.7) scale(1,1.05)" text-anchor="middle">305</text><text transform="translate(1226.3,1987.7) scale(1,1.05)" text-anchor="middle">310</text><text transform="translate(1310.6,1987.7) scale(1,1.05)" text-anchor="middle">315</text><text transform="translate(1394.9,1987.7) scale(1,1.05)" text-anchor="middle">320</text><text transform="translate(1479.2,1987.7) scale(1,1.05)" text-anchor="middle">325</text><text transform="translate(1563.5,1987.7) scale(1,1.05)" text-anchor="middle">330</text><text transform="translate(1647.8,1987.7) scale(1,1.05)" text-anchor="middle">335</text><text transform="translate(973.8,1962.6) scale(1,1.05)" text-anchor="end">0</text><text transform="translate(973.8,1882.98) scale(1,1.05)" text-anchor="end">5</text><text transform="translate(973.8,1803.37) scale(1,1.05)" text-anchor="end">10</text><text transform="translate(973.8,1723.75) scale(1,1.05)" text-anchor="end">15</text><text transform="translate(973.8,1644.14) scale(1,1.05)" text-anchor="end">20</text><text transform="translate(973.8,1564.52) scale(1,1.05)" text-anchor="end">25</text><text transform="translate(973.8,1484.91) scale(1,1.05)" text-anchor="end">30</text><text transform="translate(973.8,1405.29) scale(1,1.05)" text-anchor="end">35</text></g>
<text transform="translate(1353.85,2022.8) scale(1,0.955)" text-anchor="middle" font-family='"DejaVu Sans", "Liberation Sans", sans-serif' font-size="28" fill="#000"><tspan font-style="oblique">T</tspan> (K)</text>
<text transform="translate(926.3,1658.2) rotate(-90) scale(1,0.975)" text-anchor="middle" font-family='"DejaVu Sans", "Liberation Sans", sans-serif' font-size="28.7" fill="#000"><tspan font-style="oblique">t</tspan><tspan font-size="19.6" dy="4.8">1/<tspan font-style="oblique">e</tspan></tspan><tspan dy="-4.8"> (ms)</tspan></text>
<rect x="1483.9" y="1607.8" width="217.8" height="158.9" rx="5" fill="#fff" fill-opacity="0.8" stroke="#cfcfcf" stroke-width="2"/>
<g stroke="#FF8C00"><path d="M1493.5 1628.6 H1546.4" fill="none" stroke-width="3.3" stroke-dasharray="3.3 5.44"/><path d="M1504.2 1628.6 H1535.6" fill="none" stroke-width="4.2"/><path d="M1507 1618 V1639.2 M1532.8 1618 V1639.2" fill="none" stroke-width="4.4"/><circle cx="1519.9" cy="1628.6" r="7.2" fill="#FF8C00" stroke="none"/></g>
<text x="1567.1" y="1637.2" font-family='"DejaVu Sans", "Liberation Sans", sans-serif' font-size="25.8" fill="#000">Synomag</text>
<g stroke="#008000"><path d="M1493.5 1666.8 H1546.4" fill="none" stroke-width="3.3" stroke-dasharray="3.3 5.44"/><path d="M1504.2 1666.8 H1535.6" fill="none" stroke-width="4.2"/><path d="M1507 1656.2 V1677.4 M1532.8 1656.2 V1677.4" fill="none" stroke-width="4.4"/><circle cx="1519.9" cy="1666.8" r="7.2" fill="#008000" stroke="none"/></g>
<text x="1567.1" y="1675.4" font-family='"DejaVu Sans", "Liberation Sans", sans-serif' font-size="25.8" fill="#000">Perimag</text>
<g stroke="#FF0000"><path d="M1493.5 1705 H1546.4" fill="none" stroke-width="3.3" stroke-dasharray="3.3 5.44"/><path d="M1504.2 1705 H1535.6" fill="none" stroke-width="4.2"/><path d="M1507 1694.4 V1715.6 M1532.8 1694.4 V1715.6" fill="none" stroke-width="4.4"/><circle cx="1519.9" cy="1705" r="7.2" fill="#FF0000" stroke="none"/></g>
<text x="1567.1" y="1713.6" font-family='"DejaVu Sans", "Liberation Sans", sans-serif' font-size="25.8" fill="#000">BNF</text>
<g stroke="#0000FF"><path d="M1493.5 1743.2 H1546.4" fill="none" stroke-width="3.3" stroke-dasharray="3.3 5.44"/><path d="M1504.2 1743.2 H1535.6" fill="none" stroke-width="4.2"/><path d="M1507 1732.6 V1753.8 M1532.8 1732.6 V1753.8" fill="none" stroke-width="4.4"/><circle cx="1519.9" cy="1743.2" r="7.2" fill="#0000FF" stroke="none"/></g>
<text x="1567.1" y="1751.8" font-family='"DejaVu Sans", "Liberation Sans", sans-serif' font-size="25.8" fill="#000">Nanomag</text>
<g transform="translate(1021.6,1422.3) scale(0.93,1)"><text x="0" y="0" font-family='"Liberation Sans", "DejaVu Sans", sans-serif' font-size="42.8" fill="#000"><tspan dy="-1.4">(</tspan><tspan font-size="46" dy="1.4">d</tspan><tspan dy="-1.4">)</tspan></text></g>
</svg>
</body></html>
